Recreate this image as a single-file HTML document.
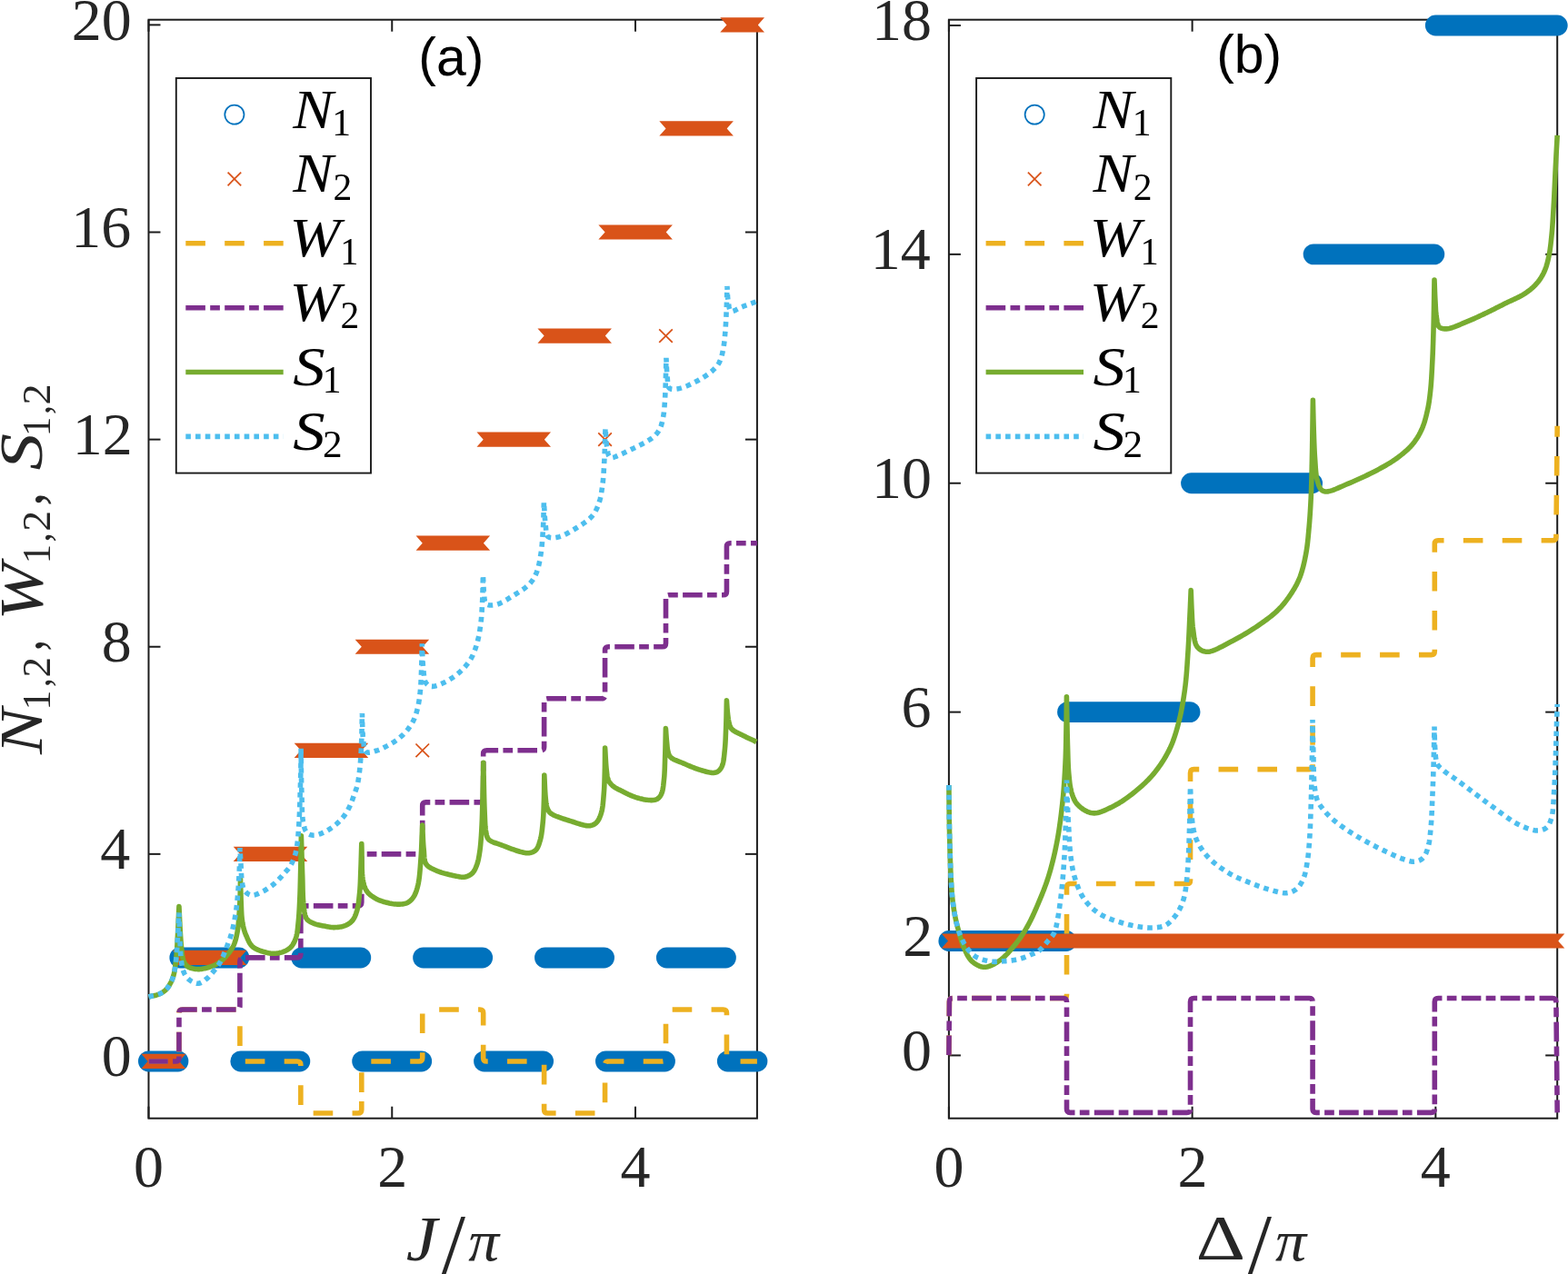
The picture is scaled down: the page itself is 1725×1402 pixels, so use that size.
<!DOCTYPE html>
<html><head><meta charset="utf-8"><title>figure</title>
<style>
html,body{margin:0;padding:0;background:#fff;}
svg{display:block;}
.tk{font-family:"Liberation Serif",serif;font-size:66px;fill:#262626;}
.lg{font-family:"Liberation Serif",serif;fill:#000;}
.it{font-style:italic;}
</style></head><body>
<svg width="1725" height="1402" viewBox="0 0 1725 1402">
<rect x="0" y="0" width="1725" height="1402" fill="#fff"/>
<g fill="none" stroke="#1c1c1c" stroke-width="2.0"><rect x="163.5" y="21.7" width="669.4" height="1209"/><line x1="163.5" y1="1230.7" x2="163.5" y2="1217.7"/><line x1="163.5" y1="21.7" x2="163.5" y2="34.7"/><line x1="431.26" y1="1230.7" x2="431.26" y2="1217.7"/><line x1="431.26" y1="21.7" x2="431.26" y2="34.7"/><line x1="699.02" y1="1230.7" x2="699.02" y2="1217.7"/><line x1="699.02" y1="21.7" x2="699.02" y2="34.7"/><line x1="163.5" y1="1167.97" x2="176.5" y2="1167.97"/><line x1="832.9" y1="1167.97" x2="819.9" y2="1167.97"/><line x1="163.5" y1="939.86" x2="176.5" y2="939.86"/><line x1="832.9" y1="939.86" x2="819.9" y2="939.86"/><line x1="163.5" y1="711.74" x2="176.5" y2="711.74"/><line x1="832.9" y1="711.74" x2="819.9" y2="711.74"/><line x1="163.5" y1="483.63" x2="176.5" y2="483.63"/><line x1="832.9" y1="483.63" x2="819.9" y2="483.63"/><line x1="163.5" y1="255.52" x2="176.5" y2="255.52"/><line x1="832.9" y1="255.52" x2="819.9" y2="255.52"/><line x1="163.5" y1="27.4" x2="176.5" y2="27.4"/><line x1="832.9" y1="27.4" x2="819.9" y2="27.4"/></g>
<g><text transform="translate(147 1306)" font-family="'Liberation Serif',serif" font-size="66" fill="#262626">0</text><text transform="translate(415.13 1306)" font-family="'Liberation Serif',serif" font-size="66" fill="#262626">2</text><text transform="translate(682.39 1306)" font-family="'Liberation Serif',serif" font-size="66" fill="#262626">4</text><text transform="translate(111.71 1184.17)" font-family="'Liberation Serif',serif" font-size="66" fill="#262626">0</text><text transform="translate(110.23 956.06)" font-family="'Liberation Serif',serif" font-size="66" fill="#262626">4</text><text transform="translate(111.71 727.94)" font-family="'Liberation Serif',serif" font-size="66" fill="#262626">8</text><text transform="translate(79.84 499.83)" font-family="'Liberation Serif',serif" font-size="66" fill="#262626">12</text><text transform="translate(78.17 271.72)" font-family="'Liberation Serif',serif" font-size="66" fill="#262626">16</text><text transform="translate(78.71 43.6)" font-family="'Liberation Serif',serif" font-size="66" fill="#262626">20</text></g>
<g fill="none" stroke="#1c1c1c" stroke-width="2.0"><rect x="1043.9" y="21.7" width="669.3" height="1209"/><line x1="1043.9" y1="1230.7" x2="1043.9" y2="1217.7"/><line x1="1043.9" y1="21.7" x2="1043.9" y2="34.7"/><line x1="1311.62" y1="1230.7" x2="1311.62" y2="1217.7"/><line x1="1311.62" y1="21.7" x2="1311.62" y2="34.7"/><line x1="1579.34" y1="1230.7" x2="1579.34" y2="1217.7"/><line x1="1579.34" y1="21.7" x2="1579.34" y2="34.7"/><line x1="1043.9" y1="1161.43" x2="1056.9" y2="1161.43"/><line x1="1713.2" y1="1161.43" x2="1700.2" y2="1161.43"/><line x1="1043.9" y1="1035.5" x2="1056.9" y2="1035.5"/><line x1="1713.2" y1="1035.5" x2="1700.2" y2="1035.5"/><line x1="1043.9" y1="783.62" x2="1056.9" y2="783.62"/><line x1="1713.2" y1="783.62" x2="1700.2" y2="783.62"/><line x1="1043.9" y1="531.75" x2="1056.9" y2="531.75"/><line x1="1713.2" y1="531.75" x2="1700.2" y2="531.75"/><line x1="1043.9" y1="279.87" x2="1056.9" y2="279.87"/><line x1="1713.2" y1="279.87" x2="1700.2" y2="279.87"/><line x1="1043.9" y1="28" x2="1056.9" y2="28"/><line x1="1713.2" y1="28" x2="1700.2" y2="28"/></g>
<g><text transform="translate(1027.4 1306)" font-family="'Liberation Serif',serif" font-size="66" fill="#262626">0</text><text transform="translate(1295.49 1306)" font-family="'Liberation Serif',serif" font-size="66" fill="#262626">2</text><text transform="translate(1562.71 1306)" font-family="'Liberation Serif',serif" font-size="66" fill="#262626">4</text><text transform="translate(992.11 1177.63)" font-family="'Liberation Serif',serif" font-size="66" fill="#262626">0</text><text transform="translate(993.24 1051.7)" font-family="'Liberation Serif',serif" font-size="66" fill="#262626">2</text><text transform="translate(991.57 799.82)" font-family="'Liberation Serif',serif" font-size="66" fill="#262626">6</text><text transform="translate(959.11 547.95)" font-family="'Liberation Serif',serif" font-size="66" fill="#262626">10</text><text transform="translate(957.63 296.07)" font-family="'Liberation Serif',serif" font-size="66" fill="#262626">14</text><text transform="translate(959.11 44.2)" font-family="'Liberation Serif',serif" font-size="66" fill="#262626">18</text></g>
<g><g stroke="#0072BD" stroke-width="22.95" stroke-linecap="round" fill="none"><line x1="163.5" y1="1167.97" x2="195.9" y2="1167.97"/><line x1="197.91" y1="1053.91" x2="262.84" y2="1053.91"/><line x1="264.85" y1="1167.97" x2="329.78" y2="1167.97"/><line x1="331.79" y1="1053.91" x2="396.72" y2="1053.91"/><line x1="398.73" y1="1167.97" x2="463.66" y2="1167.97"/><line x1="465.67" y1="1053.91" x2="530.6" y2="1053.91"/><line x1="532.61" y1="1167.97" x2="597.54" y2="1167.97"/><line x1="599.55" y1="1053.91" x2="664.48" y2="1053.91"/><line x1="666.49" y1="1167.97" x2="731.42" y2="1167.97"/><line x1="733.43" y1="1053.91" x2="798.36" y2="1053.91"/><line x1="800.37" y1="1167.97" x2="832.9" y2="1167.97"/></g>
<g fill="#D95319" stroke="none"><polygon points="155.4,1159.87 204.4,1159.87 197.2,1167.97 204.4,1176.07 155.4,1176.07 162.6,1167.97"/><polygon points="189.81,1045.81 271.34,1045.81 264.14,1053.91 271.34,1062.01 189.81,1062.01 197.01,1053.91"/><polygon points="256.75,931.76 338.28,931.76 331.08,939.86 338.28,947.96 256.75,947.96 263.95,939.86"/><polygon points="323.69,817.7 405.22,817.7 398.02,825.8 405.22,833.9 323.69,833.9 330.89,825.8"/><polygon points="390.63,703.64 472.16,703.64 464.96,711.74 472.16,719.84 390.63,719.84 397.83,711.74"/><polygon points="457.57,589.59 539.1,589.59 531.9,597.69 539.1,605.79 457.57,605.79 464.77,597.69"/><polygon points="524.51,475.53 606.04,475.53 598.84,483.63 606.04,491.73 524.51,491.73 531.71,483.63"/><polygon points="591.45,361.47 672.98,361.47 665.78,369.57 672.98,377.67 591.45,377.67 598.65,369.57"/><polygon points="658.39,247.42 739.92,247.42 732.72,255.52 739.92,263.62 658.39,263.62 665.59,255.52"/><polygon points="725.33,133.36 806.86,133.36 799.66,141.46 806.86,149.56 725.33,149.56 732.53,141.46"/><polygon points="792.27,19.3 841,19.3 833.8,27.4 841,35.5 792.27,35.5 799.47,27.4"/></g>
<g stroke="#D95319" stroke-width="1.75" fill="none"><path d="M457.43 818.5L472.03 833.1M457.43 833.1L472.03 818.5"/><path d="M658.25 476.33L672.85 490.93M658.25 490.93L672.85 476.33"/><path d="M725.19 362.27L739.79 376.87M725.19 376.87L739.79 362.27"/></g>
<path d="M163.5 1167.97 L193.17 1167.97 Q196.97 1167.97 196.97 1164.17 L196.97 1114.74 Q196.97 1110.94 200.77 1110.94 L260.11 1110.94 Q263.91 1110.94 263.91 1114.74 L263.91 1164.17 Q263.91 1167.97 267.71 1167.97 L327.05 1167.97 Q330.85 1167.97 330.85 1171.77 L330.85 1221.2 Q330.85 1225 334.65 1225 L393.99 1225 Q397.79 1225 397.79 1221.2 L397.79 1205" fill="none" stroke="#EDB120" stroke-width="5.6" stroke-dasharray="21.6 21.3" stroke-dashoffset="0.5" stroke-linejoin="round"/>
<path d="M397.79 1205 L397.79 1171.77 Q397.79 1167.97 401.59 1167.97 L460.93 1167.97 Q464.73 1167.97 464.73 1164.17 L464.73 1114.74 Q464.73 1110.94 468.53 1110.94 L527.87 1110.94 Q531.67 1110.94 531.67 1114.74 L531.67 1164.17 Q531.67 1167.97 535.47 1167.97 L594.81 1167.97 Q598.61 1167.97 598.61 1171.77 L598.61 1221.2 Q598.61 1225 602.41 1225 L661.75 1225 Q665.55 1225 665.55 1221.2 L665.55 1171.77 Q665.55 1167.97 669.35 1167.97 L728.69 1167.97 Q732.49 1167.97 732.49 1164.17 L732.49 1114.74 Q732.49 1110.94 736.29 1110.94 L795.63 1110.94 Q799.43 1110.94 799.43 1114.74 L799.43 1164.17 Q799.43 1167.97 803.23 1167.97 L832.9 1167.97" fill="none" stroke="#EDB120" stroke-width="5.6" stroke-dasharray="21.6 21.3" stroke-dashoffset="39.84" stroke-linejoin="round"/>
<path d="M163.5 1167.97 L193.17 1167.97 Q196.97 1167.97 196.97 1164.17 L196.97 1114.74 Q196.97 1110.94 200.77 1110.94 L260.11 1110.94 Q263.91 1110.94 263.91 1107.14 L263.91 1057.71 Q263.91 1053.91 267.71 1053.91 L327.05 1053.91 Q330.85 1053.91 330.85 1050.11 L330.85 1000.68 Q330.85 996.88 334.65 996.88 L393.99 996.88 Q397.79 996.88 397.79 993.08 L397.79 943.66 Q397.79 939.86 401.59 939.86 L460.93 939.86 Q464.73 939.86 464.73 936.06 L464.73 886.63 Q464.73 882.83 468.53 882.83 L527.87 882.83 Q531.67 882.83 531.67 879.03 L531.67 829.6 Q531.67 825.8 535.47 825.8 L594.81 825.8 Q598.61 825.8 598.61 822 L598.61 772.57 Q598.61 768.77 602.41 768.77 L661.75 768.77 Q665.55 768.77 665.55 764.97 L665.55 715.54 Q665.55 711.74 669.35 711.74 L728.69 711.74 Q732.49 711.74 732.49 707.94 L732.49 658.51 Q732.49 654.71 736.29 654.71 L795.63 654.71 Q799.43 654.71 799.43 650.91 L799.43 601.49 Q799.43 597.69 803.23 597.69 L832.9 597.69" fill="none" stroke="#7E2F8E" stroke-width="5.6" stroke-dasharray="21.6 5.3 10.7 5.3" stroke-dashoffset="0.3" stroke-linejoin="round"/>
<path d="M163.5 1096.9 L164.47 1096.67 L165.45 1096.45 L166.44 1096.25 L167.44 1096.05 L168.44 1095.84 L169.43 1095.64 L170.41 1095.42 L171.38 1095.19 L172.33 1094.94 L173.25 1094.66 L174.14 1094.35 L175 1094 L175.74 1093.67 L176.46 1093.31 L177.18 1092.94 L177.87 1092.56 L178.56 1092.16 L179.22 1091.74 L179.87 1091.3 L180.5 1090.85 L181.11 1090.39 L181.69 1089.91 L182.26 1089.41 L182.8 1088.9 L183.29 1088.4 L183.75 1087.88 L184.19 1087.34 L184.61 1086.78 L185.02 1086.22 L185.4 1085.64 L185.78 1085.04 L186.14 1084.44 L186.49 1083.84 L186.83 1083.23 L187.17 1082.61 L187.5 1082 L187.83 1081.37 L188.15 1080.75 L188.46 1080.11 L188.76 1079.48 L189.05 1078.83 L189.33 1078.18 L189.59 1077.52 L189.85 1076.85 L190.1 1076.16 L190.34 1075.46 L190.58 1074.74 L190.8 1074 L191.05 1073.1 L191.28 1072.17 L191.5 1071.21 L191.7 1070.24 L191.89 1069.24 L192.07 1068.23 L192.24 1067.21 L192.4 1066.17 L192.55 1065.13 L192.7 1064.09 L192.85 1063.04 L193 1062 L193.15 1060.88 L193.29 1059.77 L193.43 1058.66 L193.55 1057.55 L193.67 1056.42 L193.78 1055.29 L193.89 1054.14 L194 1052.97 L194.1 1051.77 L194.2 1050.55 L194.3 1049.29 L194.4 1048 L194.53 1046.29 L194.65 1044.52 L194.77 1042.7 L194.88 1040.83 L194.99 1038.93 L195.09 1036.99 L195.2 1035.02 L195.3 1033.03 L195.4 1031.03 L195.5 1029.02 L195.6 1027.01 L195.7 1025 L195.81 1022.79 L195.92 1020.56 L196.03 1018.3 L196.13 1016.02 L196.23 1013.72 L196.34 1011.4 L196.44 1009.08 L196.54 1006.76 L196.64 1004.43 L196.74 1002.11 L196.85 999.8 L196.95 997.5 L197.06 999.8 L197.17 1002.13 L197.28 1004.48 L197.39 1006.83 L197.49 1009.19 L197.6 1011.54 L197.71 1013.86 L197.82 1016.17 L197.94 1018.43 L198.05 1020.64 L198.17 1022.81 L198.3 1024.9 L198.4 1026.58 L198.5 1028.23 L198.6 1029.84 L198.7 1031.44 L198.8 1033 L198.9 1034.55 L199.01 1036.07 L199.13 1037.57 L199.25 1039.05 L199.39 1040.52 L199.54 1041.97 L199.7 1043.4 L199.84 1044.65 L199.97 1045.91 L200.1 1047.16 L200.23 1048.41 L200.36 1049.64 L200.51 1050.86 L200.67 1052.04 L200.86 1053.19 L201.09 1054.3 L201.35 1055.36 L201.65 1056.36 L202 1057.3 L202.29 1057.97 L202.59 1058.63 L202.9 1059.25 L203.22 1059.86 L203.57 1060.44 L203.93 1061 L204.32 1061.53 L204.73 1062.04 L205.17 1062.52 L205.65 1062.98 L206.15 1063.4 L206.7 1063.8 L207.42 1064.24 L208.2 1064.63 L209.05 1064.99 L209.95 1065.31 L210.9 1065.59 L211.87 1065.83 L212.87 1066.04 L213.87 1066.22 L214.88 1066.36 L215.88 1066.47 L216.85 1066.55 L217.8 1066.6 L218.73 1066.61 L219.66 1066.58 L220.6 1066.5 L221.54 1066.39 L222.48 1066.24 L223.42 1066.07 L224.36 1065.88 L225.29 1065.66 L226.21 1065.43 L227.12 1065.19 L228.02 1064.95 L228.9 1064.7 L229.72 1064.46 L230.53 1064.21 L231.34 1063.95 L232.14 1063.68 L232.94 1063.39 L233.72 1063.1 L234.5 1062.78 L235.26 1062.46 L236.02 1062.11 L236.76 1061.76 L237.49 1061.39 L238.2 1061 L238.87 1060.61 L239.53 1060.22 L240.17 1059.81 L240.8 1059.38 L241.42 1058.95 L242.03 1058.5 L242.64 1058.03 L243.24 1057.55 L243.83 1057.06 L244.42 1056.56 L245.01 1056.04 L245.6 1055.5 L246.25 1054.89 L246.91 1054.25 L247.56 1053.59 L248.21 1052.9 L248.86 1052.21 L249.5 1051.49 L250.13 1050.77 L250.74 1050.04 L251.34 1049.3 L251.91 1048.56 L252.47 1047.83 L253 1047.1 L253.47 1046.44 L253.92 1045.78 L254.36 1045.13 L254.78 1044.47 L255.19 1043.82 L255.58 1043.15 L255.96 1042.48 L256.33 1041.79 L256.69 1041.08 L257.04 1040.35 L257.37 1039.59 L257.7 1038.8 L258.08 1037.8 L258.45 1036.76 L258.79 1035.69 L259.11 1034.58 L259.42 1033.45 L259.71 1032.3 L259.99 1031.12 L260.25 1029.92 L260.5 1028.71 L260.74 1027.48 L260.98 1026.24 L261.2 1025 L261.44 1023.55 L261.66 1022.06 L261.86 1020.54 L262.03 1018.99 L262.2 1017.42 L262.35 1015.84 L262.49 1014.24 L262.62 1012.64 L262.74 1011.04 L262.86 1009.45 L262.98 1007.87 L263.1 1006.3 L263.22 1004.76 L263.32 1003.22 L263.43 1001.69 L263.52 1000.16 L263.61 998.63 L263.69 997.1 L263.77 995.57 L263.84 994.03 L263.91 992.48 L263.98 990.93 L264.04 989.37 L264.1 987.8 L264.16 986.14 L264.2 984.47 L264.25 982.79 L264.28 981.1 L264.31 979.41 L264.34 977.71 L264.37 976.01 L264.39 974.3 L264.42 972.6 L264.44 970.89 L264.47 969.19 L264.5 967.5 L264.57 969.82 L264.63 972.17 L264.69 974.55 L264.75 976.94 L264.81 979.33 L264.87 981.71 L264.94 984.07 L265 986.38 L265.07 988.65 L265.14 990.85 L265.22 992.97 L265.3 995 L265.36 996.49 L265.42 997.95 L265.47 999.38 L265.52 1000.77 L265.57 1002.13 L265.63 1003.46 L265.7 1004.77 L265.77 1006.06 L265.85 1007.32 L265.95 1008.56 L266.07 1009.79 L266.2 1011 L266.32 1012 L266.45 1012.98 L266.59 1013.95 L266.74 1014.91 L266.89 1015.85 L267.06 1016.78 L267.23 1017.69 L267.4 1018.58 L267.59 1019.46 L267.79 1020.32 L267.99 1021.17 L268.2 1022 L268.38 1022.68 L268.56 1023.33 L268.74 1023.96 L268.92 1024.57 L269.11 1025.17 L269.31 1025.76 L269.52 1026.36 L269.74 1026.95 L269.98 1027.56 L270.23 1028.19 L270.5 1028.83 L270.8 1029.5 L271.21 1030.44 L271.64 1031.44 L272.08 1032.49 L272.55 1033.57 L273.05 1034.67 L273.57 1035.77 L274.13 1036.86 L274.73 1037.92 L275.37 1038.94 L276.06 1039.9 L276.8 1040.79 L277.6 1041.6 L278.51 1042.36 L279.51 1043.07 L280.58 1043.72 L281.71 1044.33 L282.89 1044.89 L284.1 1045.41 L285.33 1045.89 L286.56 1046.33 L287.79 1046.74 L289 1047.12 L290.18 1047.47 L291.3 1047.8 L292.23 1048.06 L293.15 1048.3 L294.06 1048.51 L294.96 1048.7 L295.86 1048.87 L296.76 1049.01 L297.65 1049.13 L298.54 1049.22 L299.43 1049.28 L300.32 1049.32 L301.21 1049.32 L302.1 1049.3 L303 1049.25 L303.92 1049.17 L304.84 1049.05 L305.77 1048.91 L306.69 1048.75 L307.61 1048.56 L308.52 1048.34 L309.42 1048.1 L310.3 1047.83 L311.16 1047.54 L311.99 1047.23 L312.8 1046.9 L313.52 1046.58 L314.24 1046.24 L314.94 1045.89 L315.63 1045.52 L316.3 1045.13 L316.96 1044.72 L317.6 1044.28 L318.22 1043.82 L318.82 1043.33 L319.41 1042.82 L319.96 1042.27 L320.5 1041.7 L321.07 1041.02 L321.6 1040.31 L322.11 1039.55 L322.6 1038.76 L323.06 1037.94 L323.5 1037.09 L323.91 1036.21 L324.31 1035.31 L324.68 1034.38 L325.04 1033.44 L325.38 1032.48 L325.7 1031.5 L326.06 1030.29 L326.37 1029.03 L326.64 1027.74 L326.88 1026.42 L327.09 1025.06 L327.28 1023.68 L327.45 1022.26 L327.6 1020.81 L327.75 1019.34 L327.89 1017.85 L328.04 1016.34 L328.2 1014.8 L328.39 1012.86 L328.57 1010.87 L328.73 1008.84 L328.88 1006.76 L329.02 1004.64 L329.15 1002.48 L329.27 1000.3 L329.38 998.09 L329.49 995.86 L329.6 993.61 L329.7 991.36 L329.8 989.1 L329.91 986.56 L330.01 983.99 L330.1 981.38 L330.18 978.75 L330.25 976.1 L330.32 973.42 L330.39 970.72 L330.45 968.01 L330.51 965.28 L330.57 962.53 L330.64 959.77 L330.7 957 L330.77 954 L330.83 950.96 L330.89 947.89 L330.95 944.8 L331.01 941.69 L331.07 938.57 L331.12 935.44 L331.18 932.3 L331.23 929.16 L331.29 926.03 L331.34 922.91 L331.4 919.8 L331.51 923.45 L331.61 927.14 L331.72 930.86 L331.82 934.58 L331.93 938.3 L332.04 942.02 L332.14 945.71 L332.25 949.36 L332.36 952.97 L332.47 956.52 L332.58 960 L332.7 963.4 L332.79 966.28 L332.86 969.17 L332.92 972.05 L332.98 974.9 L333.03 977.72 L333.1 980.5 L333.18 983.22 L333.28 985.86 L333.4 988.42 L333.56 990.89 L333.76 993.26 L334 995.5 L334.18 997.02 L334.33 998.52 L334.49 999.99 L334.64 1001.43 L334.81 1002.82 L335 1004.17 L335.22 1005.47 L335.49 1006.71 L335.81 1007.87 L336.2 1008.97 L336.66 1009.98 L337.2 1010.9 L337.67 1011.54 L338.19 1012.13 L338.74 1012.66 L339.33 1013.15 L339.94 1013.59 L340.59 1014 L341.26 1014.39 L341.96 1014.75 L342.67 1015.1 L343.4 1015.43 L344.15 1015.77 L344.9 1016.1 L345.84 1016.49 L346.83 1016.84 L347.87 1017.17 L348.95 1017.48 L350.06 1017.76 L351.19 1018.02 L352.32 1018.26 L353.45 1018.49 L354.58 1018.71 L355.68 1018.91 L356.76 1019.11 L357.8 1019.3 L358.69 1019.47 L359.55 1019.63 L360.41 1019.8 L361.26 1019.95 L362.09 1020.1 L362.93 1020.23 L363.76 1020.35 L364.59 1020.45 L365.43 1020.52 L366.28 1020.58 L367.13 1020.6 L368 1020.6 L368.95 1020.57 L369.93 1020.52 L370.92 1020.44 L371.93 1020.34 L372.94 1020.22 L373.95 1020.07 L374.95 1019.89 L375.94 1019.69 L376.9 1019.46 L377.84 1019.2 L378.74 1018.92 L379.6 1018.6 L380.34 1018.3 L381.06 1017.98 L381.76 1017.64 L382.46 1017.28 L383.13 1016.89 L383.79 1016.49 L384.42 1016.06 L385.04 1015.61 L385.64 1015.12 L386.22 1014.61 L386.77 1014.07 L387.3 1013.5 L387.86 1012.83 L388.39 1012.11 L388.89 1011.37 L389.36 1010.58 L389.8 1009.77 L390.23 1008.92 L390.63 1008.04 L391.01 1007.13 L391.37 1006.19 L391.73 1005.22 L392.07 1004.22 L392.4 1003.2 L392.82 1001.77 L393.2 1000.25 L393.54 998.67 L393.85 997.02 L394.13 995.32 L394.38 993.58 L394.62 991.8 L394.83 990 L395.03 988.18 L395.23 986.35 L395.41 984.52 L395.6 982.7 L395.79 980.67 L395.96 978.61 L396.1 976.52 L396.23 974.41 L396.33 972.27 L396.43 970.12 L396.51 967.96 L396.59 965.78 L396.66 963.59 L396.74 961.4 L396.81 959.2 L396.9 957 L396.99 954.68 L397.08 952.34 L397.16 949.98 L397.24 947.61 L397.31 945.23 L397.38 942.84 L397.45 940.45 L397.52 938.05 L397.59 935.66 L397.66 933.27 L397.73 930.88 L397.8 928.5 L397.91 932.03 L397.99 935.7 L398.03 939.47 L398.05 943.27 L398.08 947.08 L398.12 950.84 L398.19 954.51 L398.31 958.05 L398.48 961.4 L398.73 964.52 L399.06 967.37 L399.5 969.9 L399.77 971.15 L400.05 972.32 L400.35 973.43 L400.66 974.49 L400.98 975.48 L401.33 976.43 L401.7 977.33 L402.09 978.2 L402.52 979.03 L402.97 979.84 L403.47 980.63 L404 981.4 L404.52 982.07 L405.07 982.71 L405.66 983.32 L406.27 983.9 L406.91 984.45 L407.57 984.98 L408.25 985.49 L408.93 985.98 L409.62 986.45 L410.32 986.91 L411.01 987.36 L411.7 987.8 L412.35 988.21 L412.99 988.59 L413.63 988.96 L414.27 989.31 L414.92 989.64 L415.58 989.96 L416.25 990.27 L416.95 990.57 L417.66 990.86 L418.41 991.14 L419.19 991.42 L420 991.7 L421.2 992.08 L422.5 992.47 L423.88 992.85 L425.32 993.22 L426.81 993.58 L428.32 993.92 L429.85 994.22 L431.36 994.49 L432.85 994.72 L434.3 994.91 L435.69 995.03 L437 995.1 L438.01 995.12 L439.01 995.12 L440 995.1 L440.97 995.06 L441.93 994.99 L442.87 994.89 L443.79 994.76 L444.68 994.59 L445.56 994.39 L446.4 994.14 L447.22 993.84 L448 993.5 L448.7 993.14 L449.38 992.74 L450.03 992.31 L450.66 991.84 L451.27 991.34 L451.86 990.8 L452.43 990.24 L452.98 989.64 L453.51 989.02 L454.02 988.37 L454.52 987.7 L455 987 L455.55 986.12 L456.07 985.19 L456.56 984.22 L457.01 983.21 L457.44 982.16 L457.84 981.07 L458.22 979.94 L458.58 978.77 L458.93 977.56 L459.26 976.31 L459.58 975.02 L459.9 973.7 L460.32 971.72 L460.7 969.62 L461.03 967.41 L461.33 965.12 L461.59 962.74 L461.83 960.29 L462.05 957.8 L462.25 955.26 L462.44 952.7 L462.62 950.13 L462.81 947.56 L463 945 L463.21 942.09 L463.39 939.12 L463.56 936.11 L463.71 933.05 L463.84 929.96 L463.97 926.84 L464.09 923.71 L464.2 920.57 L464.32 917.44 L464.44 914.3 L464.56 911.19 L464.7 908.1 L464.82 910.36 L464.93 912.67 L465.03 914.99 L465.12 917.33 L465.22 919.67 L465.32 922 L465.43 924.3 L465.54 926.56 L465.68 928.78 L465.83 930.93 L466 933.01 L466.2 935 L466.34 936.5 L466.44 938 L466.52 939.47 L466.6 940.93 L466.68 942.36 L466.79 943.74 L466.94 945.09 L467.14 946.38 L467.41 947.62 L467.77 948.79 L468.23 949.88 L468.8 950.9 L469.42 951.74 L470.11 952.51 L470.87 953.21 L471.7 953.86 L472.58 954.46 L473.52 955.02 L474.5 955.55 L475.51 956.06 L476.55 956.55 L477.62 957.03 L478.71 957.51 L479.8 958 L481.24 958.62 L482.8 959.21 L484.44 959.78 L486.16 960.33 L487.92 960.85 L489.71 961.35 L491.5 961.82 L493.28 962.26 L495.02 962.67 L496.7 963.05 L498.3 963.39 L499.8 963.7 L500.86 963.92 L501.9 964.15 L502.91 964.37 L503.9 964.58 L504.87 964.77 L505.83 964.94 L506.76 965.08 L507.68 965.19 L508.58 965.25 L509.47 965.26 L510.34 965.21 L511.2 965.1 L511.97 964.95 L512.73 964.76 L513.48 964.53 L514.23 964.27 L514.96 963.97 L515.68 963.64 L516.38 963.27 L517.06 962.87 L517.71 962.45 L518.34 961.99 L518.94 961.51 L519.5 961 L520.06 960.43 L520.58 959.81 L521.07 959.16 L521.53 958.47 L521.96 957.74 L522.37 956.98 L522.76 956.2 L523.13 955.4 L523.49 954.57 L523.83 953.73 L524.17 952.87 L524.5 952 L524.89 950.92 L525.24 949.81 L525.58 948.67 L525.88 947.5 L526.17 946.29 L526.43 945.06 L526.68 943.8 L526.92 942.5 L527.15 941.18 L527.37 939.82 L527.58 938.42 L527.8 937 L528.07 935.05 L528.32 933.02 L528.55 930.93 L528.76 928.78 L528.95 926.57 L529.13 924.31 L529.29 922.01 L529.45 919.66 L529.59 917.29 L529.73 914.88 L529.87 912.45 L530 910 L530.15 907 L530.28 903.9 L530.4 900.71 L530.5 897.45 L530.59 894.14 L530.68 890.8 L530.75 887.45 L530.82 884.11 L530.89 880.79 L530.96 877.53 L531.03 874.32 L531.1 871.2 L531.17 868.44 L531.23 865.72 L531.29 863.03 L531.35 860.37 L531.41 857.73 L531.47 855.1 L531.52 852.49 L531.58 849.88 L531.63 847.28 L531.69 844.66 L531.74 842.04 L531.8 839.4 L531.91 844.12 L532.02 848.99 L532.12 853.95 L532.22 858.96 L532.32 863.98 L532.43 868.94 L532.53 873.81 L532.65 878.53 L532.77 883.06 L532.9 887.35 L533.04 891.34 L533.2 895 L533.29 897.05 L533.37 899.01 L533.44 900.91 L533.51 902.73 L533.58 904.48 L533.66 906.16 L533.75 907.78 L533.86 909.34 L534 910.83 L534.16 912.28 L534.36 913.66 L534.6 915 L534.76 915.87 L534.91 916.71 L535.05 917.53 L535.19 918.31 L535.34 919.07 L535.51 919.8 L535.71 920.51 L535.95 921.19 L536.24 921.85 L536.59 922.49 L537.01 923.1 L537.5 923.7 L538.28 924.44 L539.19 925.1 L540.22 925.71 L541.35 926.26 L542.56 926.78 L543.84 927.27 L545.18 927.73 L546.55 928.19 L547.95 928.64 L549.35 929.11 L550.74 929.59 L552.1 930.1 L553.76 930.75 L555.52 931.44 L557.36 932.15 L559.25 932.87 L561.18 933.59 L563.11 934.3 L565.02 934.98 L566.89 935.63 L568.7 936.23 L570.42 936.76 L572.03 937.22 L573.5 937.6 L574.34 937.8 L575.15 937.99 L575.92 938.17 L576.66 938.34 L577.38 938.48 L578.08 938.61 L578.76 938.7 L579.44 938.77 L580.1 938.81 L580.76 938.81 L581.43 938.78 L582.1 938.7 L582.76 938.59 L583.42 938.46 L584.09 938.3 L584.75 938.11 L585.4 937.89 L586.05 937.64 L586.68 937.35 L587.3 937.04 L587.89 936.68 L588.46 936.3 L588.99 935.87 L589.5 935.4 L590.07 934.77 L590.59 934.07 L591.07 933.31 L591.52 932.49 L591.93 931.62 L592.32 930.7 L592.69 929.74 L593.03 928.75 L593.36 927.73 L593.68 926.7 L593.99 925.65 L594.3 924.6 L594.68 923.21 L595.02 921.76 L595.32 920.25 L595.6 918.69 L595.86 917.09 L596.09 915.45 L596.3 913.79 L596.5 912.1 L596.68 910.41 L596.86 908.7 L597.03 907 L597.2 905.3 L597.37 903.44 L597.53 901.57 L597.66 899.67 L597.78 897.77 L597.89 895.84 L597.98 893.9 L598.06 891.95 L598.14 889.97 L598.2 887.98 L598.27 885.97 L598.33 883.94 L598.4 881.9 L598.47 879.6 L598.52 877.26 L598.57 874.89 L598.61 872.49 L598.64 870.08 L598.66 867.64 L598.68 865.2 L598.7 862.75 L598.72 860.3 L598.74 857.85 L598.77 855.42 L598.8 853 L598.91 855.12 L599.02 857.29 L599.12 859.5 L599.22 861.74 L599.32 863.97 L599.42 866.18 L599.52 868.35 L599.64 870.47 L599.76 872.51 L599.89 874.46 L600.04 876.3 L600.2 878 L600.3 879.04 L600.4 880.03 L600.49 880.99 L600.58 881.92 L600.67 882.81 L600.77 883.67 L600.88 884.51 L601.01 885.33 L601.16 886.12 L601.34 886.89 L601.55 887.65 L601.8 888.4 L602.02 889.01 L602.23 889.6 L602.45 890.18 L602.68 890.73 L602.92 891.28 L603.18 891.81 L603.47 892.32 L603.8 892.83 L604.17 893.33 L604.59 893.82 L605.06 894.31 L605.6 894.8 L606.72 895.64 L608.08 896.45 L609.62 897.24 L611.33 898.01 L613.16 898.74 L615.1 899.46 L617.1 900.15 L619.14 900.82 L621.18 901.47 L623.19 902.1 L625.14 902.71 L627 903.3 L628.8 903.89 L630.67 904.52 L632.58 905.17 L634.51 905.81 L636.45 906.43 L638.37 907.02 L640.25 907.54 L642.08 908 L643.82 908.36 L645.47 908.61 L647.01 908.73 L648.4 908.7 L649.19 908.62 L649.94 908.5 L650.66 908.35 L651.35 908.16 L652 907.94 L652.63 907.68 L653.24 907.39 L653.83 907.06 L654.39 906.7 L654.94 906.3 L655.48 905.87 L656 905.4 L656.61 904.78 L657.18 904.08 L657.73 903.33 L658.24 902.52 L658.73 901.66 L659.18 900.75 L659.62 899.8 L660.03 898.81 L660.42 897.79 L660.8 896.75 L661.16 895.68 L661.5 894.6 L661.92 893.1 L662.29 891.51 L662.61 889.84 L662.88 888.1 L663.13 886.3 L663.34 884.46 L663.52 882.59 L663.69 880.71 L663.85 878.81 L664 876.92 L664.15 875.05 L664.3 873.2 L664.45 871.29 L664.59 869.38 L664.7 867.47 L664.8 865.54 L664.89 863.61 L664.97 861.67 L665.03 859.72 L665.09 857.76 L665.14 855.79 L665.2 853.8 L665.25 851.81 L665.3 849.8 L665.35 847.64 L665.4 845.45 L665.43 843.25 L665.46 841.03 L665.48 838.8 L665.5 836.56 L665.52 834.31 L665.53 832.07 L665.54 829.82 L665.56 827.57 L665.58 825.33 L665.6 823.1 L665.74 825.21 L665.87 827.38 L665.99 829.58 L666.11 831.8 L666.23 834.02 L666.36 836.23 L666.49 838.39 L666.62 840.5 L666.77 842.53 L666.93 844.48 L667.11 846.3 L667.3 848 L667.42 849.04 L667.53 850.04 L667.64 851 L667.74 851.93 L667.85 852.82 L667.96 853.69 L668.1 854.53 L668.25 855.35 L668.43 856.14 L668.65 856.91 L668.9 857.66 L669.2 858.4 L669.49 859.03 L669.81 859.63 L670.14 860.21 L670.49 860.77 L670.87 861.32 L671.27 861.85 L671.68 862.36 L672.12 862.87 L672.58 863.36 L673.07 863.85 L673.57 864.33 L674.1 864.8 L674.76 865.35 L675.47 865.87 L676.21 866.37 L676.98 866.85 L677.79 867.32 L678.62 867.78 L679.48 868.23 L680.35 868.68 L681.25 869.12 L682.16 869.57 L683.07 870.03 L684 870.5 L685.14 871.09 L686.33 871.69 L687.54 872.31 L688.78 872.94 L690.05 873.56 L691.34 874.18 L692.65 874.79 L693.97 875.38 L695.3 875.94 L696.63 876.46 L697.97 876.95 L699.3 877.4 L700.67 877.82 L702.09 878.23 L703.55 878.62 L705.03 878.98 L706.52 879.33 L708 879.64 L709.47 879.91 L710.9 880.15 L712.28 880.34 L713.6 880.48 L714.85 880.57 L716 880.6 L716.71 880.59 L717.4 880.58 L718.07 880.55 L718.72 880.5 L719.35 880.44 L719.95 880.35 L720.54 880.24 L721.11 880.1 L721.66 879.93 L722.19 879.72 L722.7 879.48 L723.2 879.2 L723.68 878.88 L724.15 878.52 L724.59 878.13 L725.02 877.71 L725.42 877.26 L725.81 876.78 L726.18 876.27 L726.53 875.73 L726.87 875.16 L727.19 874.56 L727.5 873.94 L727.8 873.3 L728.2 872.3 L728.54 871.22 L728.85 870.06 L729.11 868.84 L729.34 867.56 L729.54 866.22 L729.73 864.85 L729.89 863.44 L730.05 862 L730.19 860.54 L730.34 859.07 L730.5 857.6 L730.69 855.69 L730.85 853.71 L730.99 851.68 L731.1 849.59 L731.2 847.46 L731.29 845.28 L731.36 843.08 L731.43 840.86 L731.5 838.63 L731.56 836.38 L731.63 834.14 L731.7 831.9 L731.78 829.46 L731.85 826.99 L731.92 824.5 L731.98 821.99 L732.04 819.45 L732.09 816.91 L732.14 814.35 L732.19 811.79 L732.24 809.23 L732.29 806.68 L732.34 804.13 L732.4 801.6 L732.5 802.89 L732.59 804.2 L732.69 805.52 L732.78 806.84 L732.87 808.17 L732.97 809.49 L733.06 810.79 L733.16 812.09 L733.26 813.36 L733.37 814.61 L733.48 815.82 L733.6 817 L733.7 817.96 L733.78 818.91 L733.86 819.85 L733.94 820.77 L734.02 821.69 L734.11 822.58 L734.21 823.46 L734.32 824.32 L734.46 825.15 L734.61 825.96 L734.79 826.75 L735 827.5 L735.18 828.08 L735.35 828.64 L735.52 829.18 L735.7 829.71 L735.89 830.22 L736.1 830.72 L736.33 831.21 L736.59 831.69 L736.88 832.15 L737.21 832.61 L737.58 833.06 L738 833.5 L738.7 834.11 L739.5 834.68 L740.4 835.21 L741.37 835.72 L742.41 836.21 L743.51 836.68 L744.65 837.14 L745.82 837.6 L747.02 838.05 L748.22 838.52 L749.42 839 L750.6 839.5 L752.06 840.14 L753.59 840.81 L755.16 841.5 L756.78 842.2 L758.42 842.9 L760.09 843.59 L761.76 844.28 L763.43 844.94 L765.09 845.57 L766.73 846.16 L768.34 846.71 L769.9 847.2 L771.26 847.61 L772.64 848.02 L774.04 848.42 L775.44 848.81 L776.84 849.17 L778.21 849.51 L779.55 849.81 L780.84 850.05 L782.08 850.25 L783.24 850.37 L784.32 850.43 L785.3 850.4 L785.83 850.35 L786.34 850.28 L786.81 850.19 L787.27 850.09 L787.7 849.96 L788.12 849.82 L788.52 849.65 L788.91 849.46 L789.29 849.26 L789.66 849.03 L790.03 848.77 L790.4 848.5 L790.82 848.15 L791.23 847.77 L791.63 847.36 L792.01 846.92 L792.38 846.46 L792.74 845.96 L793.08 845.44 L793.41 844.88 L793.73 844.3 L794.03 843.7 L794.32 843.06 L794.6 842.4 L794.99 841.33 L795.32 840.16 L795.62 838.91 L795.88 837.58 L796.11 836.2 L796.32 834.75 L796.5 833.27 L796.67 831.74 L796.83 830.2 L796.98 828.63 L797.14 827.07 L797.3 825.5 L797.49 823.56 L797.66 821.55 L797.81 819.5 L797.95 817.4 L798.07 815.26 L798.18 813.09 L798.27 810.9 L798.36 808.69 L798.45 806.46 L798.53 804.24 L798.62 802.01 L798.7 799.8 L798.79 797.45 L798.86 795.07 L798.93 792.67 L798.99 790.26 L799.05 787.84 L799.1 785.41 L799.15 782.97 L799.2 780.53 L799.24 778.09 L799.29 775.65 L799.34 773.22 L799.4 770.8 L799.5 772.08 L799.59 773.37 L799.68 774.67 L799.77 775.97 L799.85 777.28 L799.94 778.58 L800.04 779.87 L800.13 781.15 L800.24 782.4 L800.35 783.63 L800.47 784.83 L800.6 786 L800.71 786.96 L800.82 787.91 L800.93 788.85 L801.05 789.77 L801.16 790.69 L801.28 791.59 L801.42 792.47 L801.56 793.33 L801.72 794.16 L801.89 794.97 L802.09 795.75 L802.3 796.5 L802.47 797.06 L802.63 797.59 L802.78 798.11 L802.94 798.61 L803.1 799.1 L803.28 799.57 L803.48 800.04 L803.71 800.49 L803.97 800.95 L804.26 801.4 L804.61 801.85 L805 802.3 L805.74 803 L806.61 803.69 L807.61 804.37 L808.7 805.04 L809.88 805.69 L811.12 806.33 L812.4 806.96 L813.69 807.58 L814.99 808.2 L816.27 808.8 L817.52 809.4 L818.7 810 L819.82 810.57 L820.94 811.13 L822.07 811.68 L823.19 812.21 L824.32 812.74 L825.44 813.27 L826.57 813.79 L827.69 814.31 L828.82 814.83 L829.95 815.35 L831.07 815.87 L832.2 816.4" fill="none" stroke="#77AC30" stroke-width="5.6" stroke-linejoin="round" stroke-linecap="butt"/>
<path d="M163.5 1096.9 L164.47 1096.67 L165.45 1096.45 L166.44 1096.25 L167.44 1096.05 L168.44 1095.84 L169.43 1095.64 L170.41 1095.42 L171.38 1095.19 L172.33 1094.94 L173.25 1094.66 L174.14 1094.35 L175 1094 L175.74 1093.67 L176.46 1093.31 L177.18 1092.94 L177.87 1092.56 L178.56 1092.16 L179.22 1091.74 L179.87 1091.3 L180.5 1090.85 L181.11 1090.39 L181.69 1089.91 L182.26 1089.41 L182.8 1088.9 L183.29 1088.4 L183.75 1087.88 L184.19 1087.34 L184.61 1086.78 L185.02 1086.22 L185.4 1085.64 L185.78 1085.04 L186.14 1084.44 L186.49 1083.84 L186.83 1083.23 L187.17 1082.61 L187.5 1082 L187.83 1081.37 L188.15 1080.75 L188.46 1080.11 L188.76 1079.48 L189.05 1078.83 L189.33 1078.18 L189.59 1077.52 L189.85 1076.85 L190.1 1076.16 L190.34 1075.46 L190.58 1074.74 L190.8 1074 L191.05 1073.1 L191.28 1072.17 L191.5 1071.21 L191.7 1070.24 L191.89 1069.24 L192.07 1068.23 L192.24 1067.21 L192.4 1066.17 L192.55 1065.13 L192.7 1064.09 L192.85 1063.04 L193 1062 L193.15 1060.88 L193.29 1059.76 L193.43 1058.64 L193.55 1057.51 L193.67 1056.38 L193.78 1055.23 L193.89 1054.07 L193.99 1052.9 L194.09 1051.7 L194.19 1050.49 L194.3 1049.26 L194.4 1048 L194.52 1046.46 L194.64 1044.89 L194.76 1043.29 L194.87 1041.66 L194.98 1040 L195.09 1038.33 L195.19 1036.63 L195.3 1034.92 L195.4 1033.2 L195.5 1031.47 L195.6 1029.73 L195.7 1028 L195.81 1026.11 L195.91 1024.19 L196.02 1022.26 L196.12 1020.31 L196.22 1018.34 L196.31 1016.37 L196.41 1014.39 L196.51 1012.4 L196.61 1010.42 L196.7 1008.44 L196.8 1006.46 L196.9 1004.5 L196.99 1007.06 L197.08 1009.65 L197.16 1012.26 L197.25 1014.88 L197.33 1017.5 L197.42 1020.11 L197.51 1022.7 L197.6 1025.25 L197.69 1027.78 L197.79 1030.25 L197.89 1032.66 L198 1035 L198.09 1036.9 L198.17 1038.78 L198.25 1040.64 L198.32 1042.47 L198.4 1044.27 L198.49 1046.05 L198.58 1047.79 L198.69 1049.5 L198.81 1051.18 L198.95 1052.83 L199.11 1054.43 L199.3 1056 L199.46 1057.24 L199.62 1058.46 L199.77 1059.66 L199.94 1060.85 L200.11 1062.01 L200.3 1063.15 L200.51 1064.26 L200.74 1065.35 L201 1066.4 L201.29 1067.43 L201.63 1068.43 L202 1069.4 L202.35 1070.21 L202.71 1071 L203.09 1071.77 L203.5 1072.53 L203.92 1073.26 L204.36 1073.97 L204.83 1074.66 L205.33 1075.33 L205.85 1075.96 L206.4 1076.57 L206.99 1077.15 L207.6 1077.7 L208.3 1078.27 L209.05 1078.83 L209.86 1079.38 L210.7 1079.92 L211.57 1080.42 L212.46 1080.89 L213.37 1081.3 L214.28 1081.66 L215.19 1081.95 L216.09 1082.16 L216.96 1082.28 L217.8 1082.3 L218.6 1082.22 L219.41 1082.04 L220.21 1081.77 L221.02 1081.43 L221.82 1081.02 L222.61 1080.56 L223.4 1080.05 L224.17 1079.52 L224.93 1078.96 L225.67 1078.4 L226.4 1077.84 L227.1 1077.3 L227.79 1076.75 L228.46 1076.16 L229.1 1075.56 L229.73 1074.93 L230.35 1074.28 L230.96 1073.61 L231.55 1072.93 L232.14 1072.24 L232.73 1071.53 L233.32 1070.83 L233.91 1070.11 L234.5 1069.4 L235.14 1068.63 L235.8 1067.84 L236.46 1067.03 L237.11 1066.21 L237.77 1065.38 L238.42 1064.54 L239.05 1063.7 L239.67 1062.85 L240.27 1062.01 L240.84 1061.17 L241.39 1060.33 L241.9 1059.5 L242.32 1058.78 L242.72 1058.07 L243.09 1057.36 L243.44 1056.65 L243.77 1055.95 L244.1 1055.24 L244.41 1054.53 L244.72 1053.81 L245.03 1053.08 L245.35 1052.33 L245.67 1051.58 L246 1050.8 L246.39 1049.88 L246.78 1048.94 L247.17 1047.98 L247.56 1047 L247.95 1046 L248.34 1045 L248.73 1043.99 L249.11 1042.98 L249.49 1041.97 L249.87 1040.97 L250.24 1039.98 L250.6 1039 L250.95 1038.07 L251.29 1037.16 L251.64 1036.24 L251.98 1035.33 L252.32 1034.43 L252.65 1033.52 L252.98 1032.61 L253.3 1031.7 L253.62 1030.79 L253.92 1029.87 L254.22 1028.94 L254.5 1028 L254.78 1027.03 L255.04 1026.05 L255.3 1025.06 L255.55 1024.07 L255.78 1023.08 L256.01 1022.08 L256.24 1021.07 L256.45 1020.07 L256.67 1019.06 L256.88 1018.04 L257.09 1017.02 L257.3 1016 L257.52 1014.94 L257.73 1013.87 L257.94 1012.8 L258.14 1011.73 L258.34 1010.65 L258.53 1009.57 L258.72 1008.48 L258.91 1007.4 L259.09 1006.3 L259.27 1005.2 L259.44 1004.1 L259.6 1003 L259.76 1001.86 L259.92 1000.71 L260.07 999.55 L260.21 998.39 L260.34 997.23 L260.48 996.07 L260.6 994.9 L260.73 993.73 L260.85 992.55 L260.97 991.37 L261.08 990.19 L261.2 989 L261.32 987.77 L261.43 986.54 L261.54 985.31 L261.65 984.08 L261.75 982.84 L261.85 981.59 L261.95 980.34 L262.04 979.09 L262.13 977.83 L262.23 976.56 L262.31 975.29 L262.4 974 L262.49 972.63 L262.58 971.26 L262.66 969.89 L262.74 968.52 L262.82 967.14 L262.89 965.75 L262.96 964.34 L263.04 962.92 L263.1 961.48 L263.17 960.01 L263.24 958.52 L263.3 957 L263.37 955.15 L263.44 953.25 L263.5 951.31 L263.56 949.33 L263.62 947.33 L263.67 945.3 L263.73 943.26 L263.78 941.22 L263.83 939.17 L263.89 937.13 L263.94 935.1 L264 933.1 L264.08 934.61 L264.16 936.13 L264.24 937.64 L264.32 939.15 L264.4 940.65 L264.48 942.16 L264.57 943.68 L264.65 945.19 L264.73 946.71 L264.82 948.23 L264.91 949.76 L265 951.3 L265.09 952.92 L265.17 954.58 L265.24 956.28 L265.31 958 L265.39 959.72 L265.46 961.43 L265.55 963.12 L265.66 964.76 L265.78 966.36 L265.92 967.89 L266.1 969.34 L266.3 970.7 L266.45 971.6 L266.58 972.47 L266.71 973.32 L266.84 974.14 L266.98 974.94 L267.14 975.71 L267.32 976.45 L267.53 977.17 L267.78 977.87 L268.07 978.54 L268.4 979.18 L268.8 979.8 L269.25 980.4 L269.76 981.01 L270.31 981.6 L270.9 982.17 L271.52 982.72 L272.18 983.23 L272.87 983.71 L273.57 984.13 L274.29 984.5 L275.03 984.81 L275.76 985.04 L276.5 985.2 L277.35 985.27 L278.25 985.22 L279.18 985.08 L280.13 984.86 L281.11 984.56 L282.1 984.21 L283.09 983.81 L284.09 983.38 L285.07 982.93 L286.04 982.47 L286.98 982.02 L287.9 981.6 L288.79 981.18 L289.68 980.73 L290.57 980.25 L291.44 979.75 L292.31 979.23 L293.17 978.7 L294.02 978.16 L294.85 977.61 L295.67 977.06 L296.46 976.5 L297.24 975.95 L298 975.4 L298.65 974.92 L299.27 974.45 L299.88 973.97 L300.47 973.49 L301.04 973.01 L301.61 972.52 L302.17 972.03 L302.73 971.53 L303.29 971.01 L303.85 970.49 L304.42 969.95 L305 969.4 L305.65 968.76 L306.31 968.1 L306.97 967.42 L307.63 966.73 L308.3 966.02 L308.96 965.31 L309.62 964.58 L310.27 963.86 L310.91 963.13 L311.55 962.41 L312.18 961.7 L312.8 961 L313.38 960.35 L313.95 959.72 L314.53 959.1 L315.09 958.48 L315.66 957.87 L316.22 957.25 L316.76 956.62 L317.3 955.98 L317.82 955.32 L318.33 954.64 L318.82 953.94 L319.3 953.2 L319.81 952.34 L320.31 951.45 L320.79 950.54 L321.26 949.6 L321.71 948.63 L322.15 947.65 L322.57 946.66 L322.97 945.65 L323.36 944.64 L323.72 943.63 L324.07 942.61 L324.4 941.6 L324.71 940.57 L325 939.54 L325.26 938.5 L325.51 937.45 L325.73 936.39 L325.94 935.33 L326.14 934.26 L326.32 933.18 L326.5 932.1 L326.67 931.01 L326.84 929.91 L327 928.8 L327.17 927.61 L327.32 926.41 L327.46 925.21 L327.59 923.99 L327.71 922.77 L327.82 921.54 L327.92 920.3 L328.02 919.05 L328.11 917.8 L328.21 916.54 L328.3 915.27 L328.4 914 L328.5 912.64 L328.6 911.28 L328.69 909.93 L328.78 908.57 L328.87 907.2 L328.95 905.82 L329.03 904.42 L329.1 903 L329.18 901.55 L329.25 900.07 L329.33 898.56 L329.4 897 L329.49 894.96 L329.58 892.85 L329.66 890.66 L329.74 888.42 L329.82 886.14 L329.89 883.82 L329.97 881.49 L330.04 879.15 L330.1 876.82 L330.17 874.51 L330.24 872.23 L330.3 870 L330.36 867.88 L330.42 865.75 L330.48 863.63 L330.53 861.52 L330.59 859.41 L330.64 857.31 L330.69 855.22 L330.74 853.14 L330.78 851.08 L330.83 849.03 L330.86 847.01 L330.9 845 L330.93 843.18 L330.95 841.38 L330.97 839.6 L330.99 837.83 L331.01 836.08 L331.02 834.34 L331.03 832.6 L331.05 830.87 L331.06 829.13 L331.07 827.4 L331.08 825.65 L331.1 823.9 L331.17 828.32 L331.23 832.81 L331.29 837.36 L331.35 841.93 L331.4 846.51 L331.46 851.06 L331.52 855.55 L331.59 859.97 L331.67 864.28 L331.77 868.45 L331.88 872.47 L332 876.3 L332.09 879.07 L332.15 881.81 L332.2 884.51 L332.25 887.16 L332.3 889.75 L332.37 892.28 L332.46 894.72 L332.59 897.07 L332.75 899.33 L332.97 901.48 L333.25 903.5 L333.6 905.4 L333.85 906.56 L334.1 907.69 L334.35 908.79 L334.62 909.85 L334.91 910.87 L335.22 911.85 L335.56 912.78 L335.92 913.65 L336.33 914.46 L336.77 915.21 L337.26 915.89 L337.8 916.5 L338.27 916.93 L338.77 917.32 L339.3 917.67 L339.85 917.98 L340.43 918.25 L341.03 918.49 L341.64 918.69 L342.27 918.85 L342.92 918.98 L343.57 919.09 L344.23 919.16 L344.9 919.2 L345.77 919.2 L346.68 919.12 L347.62 918.97 L348.6 918.77 L349.59 918.51 L350.6 918.21 L351.61 917.87 L352.62 917.5 L353.62 917.12 L354.61 916.71 L355.57 916.31 L356.5 915.9 L357.41 915.48 L358.32 915.03 L359.22 914.54 L360.11 914.04 L360.99 913.51 L361.86 912.96 L362.72 912.4 L363.57 911.83 L364.4 911.25 L365.22 910.67 L366.02 910.08 L366.8 909.5 L367.51 908.96 L368.2 908.42 L368.88 907.86 L369.55 907.31 L370.2 906.74 L370.85 906.17 L371.48 905.59 L372.1 905 L372.72 904.41 L373.32 903.82 L373.91 903.21 L374.5 902.6 L375.06 902 L375.61 901.41 L376.15 900.81 L376.68 900.2 L377.2 899.59 L377.71 898.97 L378.21 898.34 L378.7 897.7 L379.19 897.05 L379.66 896.38 L380.14 895.7 L380.6 895 L381.1 894.2 L381.6 893.38 L382.09 892.53 L382.56 891.67 L383.03 890.79 L383.49 889.89 L383.94 888.99 L384.37 888.09 L384.8 887.18 L385.21 886.28 L385.61 885.38 L386 884.5 L386.35 883.67 L386.69 882.83 L387.01 882 L387.32 881.16 L387.62 880.33 L387.91 879.49 L388.19 878.66 L388.47 877.83 L388.75 876.99 L389.03 876.16 L389.31 875.33 L389.6 874.5 L389.89 873.69 L390.18 872.89 L390.47 872.09 L390.77 871.29 L391.06 870.49 L391.35 869.69 L391.63 868.89 L391.91 868.09 L392.18 867.28 L392.43 866.46 L392.67 865.64 L392.9 864.8 L393.12 863.91 L393.33 863.02 L393.52 862.11 L393.71 861.2 L393.88 860.28 L394.04 859.36 L394.2 858.43 L394.35 857.5 L394.49 856.57 L394.63 855.64 L394.77 854.72 L394.9 853.8 L395.03 852.89 L395.15 851.99 L395.26 851.1 L395.37 850.2 L395.47 849.31 L395.57 848.41 L395.66 847.51 L395.75 846.61 L395.84 845.69 L395.92 844.77 L396.01 843.84 L396.1 842.9 L396.2 841.87 L396.29 840.83 L396.38 839.8 L396.47 838.76 L396.56 837.71 L396.64 836.65 L396.72 835.57 L396.8 834.48 L396.88 833.37 L396.96 832.24 L397.03 831.09 L397.1 829.9 L397.18 828.39 L397.27 826.84 L397.34 825.25 L397.41 823.63 L397.48 821.98 L397.55 820.31 L397.61 818.61 L397.68 816.89 L397.73 815.16 L397.79 813.41 L397.85 811.66 L397.9 809.9 L397.96 807.92 L398.01 805.91 L398.05 803.87 L398.1 801.8 L398.14 799.72 L398.18 797.62 L398.21 795.51 L398.25 793.4 L398.28 791.29 L398.32 789.18 L398.36 787.08 L398.4 785 L398.49 787.45 L398.55 789.96 L398.6 792.51 L398.65 795.08 L398.69 797.65 L398.75 800.2 L398.81 802.71 L398.9 805.16 L399.01 807.54 L399.17 809.81 L399.36 811.98 L399.6 814 L399.77 815.36 L399.91 816.74 L400.03 818.12 L400.15 819.48 L400.29 820.8 L400.46 822.07 L400.66 823.26 L400.92 824.36 L401.25 825.36 L401.67 826.22 L402.18 826.94 L402.8 827.5 L403.5 827.86 L404.31 828.07 L405.21 828.14 L406.19 828.11 L407.23 827.98 L408.32 827.77 L409.43 827.5 L410.55 827.19 L411.67 826.86 L412.76 826.52 L413.81 826.2 L414.8 825.9 L415.75 825.61 L416.69 825.28 L417.63 824.93 L418.55 824.54 L419.47 824.14 L420.38 823.71 L421.29 823.27 L422.19 822.81 L423.09 822.34 L423.99 821.86 L424.9 821.38 L425.8 820.9 L426.75 820.39 L427.7 819.88 L428.65 819.35 L429.61 818.81 L430.56 818.26 L431.5 817.7 L432.44 817.12 L433.38 816.53 L434.3 815.92 L435.22 815.3 L436.12 814.66 L437 814 L437.89 813.31 L438.78 812.61 L439.65 811.89 L440.52 811.15 L441.38 810.4 L442.23 809.63 L443.07 808.85 L443.89 808.05 L444.69 807.23 L445.48 806.4 L446.25 805.56 L447 804.7 L447.74 803.81 L448.47 802.9 L449.19 801.98 L449.89 801.04 L450.58 800.08 L451.25 799.11 L451.89 798.13 L452.52 797.13 L453.13 796.11 L453.71 795.09 L454.27 794.05 L454.8 793 L455.31 791.91 L455.8 790.81 L456.26 789.69 L456.69 788.56 L457.1 787.42 L457.49 786.26 L457.86 785.08 L458.21 783.9 L458.55 782.69 L458.87 781.48 L459.19 780.25 L459.5 779 L459.83 777.6 L460.13 776.18 L460.42 774.74 L460.68 773.29 L460.93 771.82 L461.16 770.33 L461.37 768.82 L461.58 767.3 L461.77 765.75 L461.95 764.19 L462.13 762.6 L462.3 761 L462.48 759.13 L462.64 757.23 L462.78 755.3 L462.91 753.34 L463.02 751.36 L463.12 749.35 L463.21 747.33 L463.29 745.29 L463.37 743.23 L463.44 741.16 L463.52 739.09 L463.6 737 L463.68 734.7 L463.76 732.38 L463.83 730.03 L463.89 727.65 L463.94 725.26 L464 722.86 L464.05 720.44 L464.09 718.03 L464.14 715.61 L464.19 713.2 L464.24 710.79 L464.3 708.4 L464.42 710.82 L464.52 713.28 L464.62 715.79 L464.71 718.31 L464.8 720.83 L464.89 723.33 L465 725.8 L465.11 728.21 L465.25 730.56 L465.4 732.82 L465.59 734.97 L465.8 737 L465.95 738.39 L466.08 739.77 L466.21 741.14 L466.33 742.47 L466.46 743.77 L466.61 745.03 L466.79 746.24 L467 747.38 L467.26 748.46 L467.57 749.46 L467.95 750.38 L468.4 751.2 L468.75 751.73 L469.13 752.22 L469.52 752.69 L469.94 753.13 L470.38 753.53 L470.84 753.9 L471.33 754.23 L471.83 754.53 L472.36 754.78 L472.92 755 L473.5 755.17 L474.1 755.3 L475.04 755.39 L476.07 755.37 L477.17 755.23 L478.33 755.01 L479.54 754.7 L480.79 754.32 L482.07 753.88 L483.35 753.39 L484.64 752.87 L485.92 752.32 L487.18 751.76 L488.4 751.2 L489.83 750.51 L491.28 749.76 L492.75 748.94 L494.24 748.07 L495.72 747.15 L497.2 746.19 L498.66 745.19 L500.11 744.15 L501.52 743.09 L502.89 742.01 L504.22 740.91 L505.5 739.8 L506.7 738.7 L507.88 737.58 L509.04 736.42 L510.17 735.24 L511.28 734.03 L512.35 732.8 L513.39 731.55 L514.4 730.27 L515.36 728.98 L516.29 727.67 L517.17 726.34 L518 725 L518.76 723.68 L519.47 722.34 L520.14 720.99 L520.77 719.61 L521.36 718.22 L521.92 716.81 L522.44 715.38 L522.95 713.94 L523.43 712.47 L523.9 711 L524.35 709.51 L524.8 708 L525.26 706.35 L525.69 704.68 L526.1 702.98 L526.47 701.26 L526.83 699.52 L527.16 697.77 L527.47 696 L527.76 694.22 L528.04 692.42 L528.3 690.62 L528.56 688.81 L528.8 687 L529.04 685.07 L529.26 683.13 L529.45 681.19 L529.62 679.23 L529.78 677.26 L529.92 675.28 L530.05 673.28 L530.17 671.27 L530.28 669.23 L530.39 667.18 L530.49 665.1 L530.6 663 L530.71 660.62 L530.81 658.2 L530.89 655.74 L530.96 653.25 L531.02 650.74 L531.08 648.21 L531.13 645.67 L531.18 643.13 L531.23 640.58 L531.28 638.04 L531.34 635.51 L531.4 633 L531.49 634.77 L531.58 636.58 L531.66 638.42 L531.73 640.27 L531.81 642.12 L531.88 643.95 L531.97 645.76 L532.06 647.54 L532.17 649.26 L532.29 650.92 L532.44 652.5 L532.6 654 L532.71 655.04 L532.78 656.09 L532.83 657.14 L532.87 658.17 L532.92 659.17 L532.99 660.14 L533.09 661.06 L533.24 661.93 L533.46 662.72 L533.74 663.44 L534.12 664.07 L534.6 664.6 L535.2 665.04 L535.89 665.38 L536.68 665.65 L537.53 665.84 L538.46 665.97 L539.43 666.02 L540.44 666.03 L541.47 665.98 L542.52 665.88 L543.56 665.75 L544.59 665.59 L545.6 665.4 L546.93 665.07 L548.29 664.63 L549.68 664.08 L551.09 663.43 L552.53 662.71 L553.98 661.93 L555.45 661.09 L556.92 660.22 L558.39 659.32 L559.87 658.41 L561.34 657.5 L562.8 656.6 L564.48 655.58 L566.23 654.51 L568.03 653.4 L569.85 652.25 L571.67 651.07 L573.48 649.86 L575.25 648.64 L576.97 647.39 L578.6 646.12 L580.13 644.85 L581.54 643.58 L582.8 642.3 L583.67 641.33 L584.48 640.36 L585.23 639.4 L585.92 638.43 L586.57 637.46 L587.18 636.47 L587.75 635.47 L588.3 634.44 L588.82 633.38 L589.32 632.29 L589.81 631.17 L590.3 630 L590.85 628.56 L591.36 627.06 L591.83 625.51 L592.27 623.92 L592.67 622.29 L593.04 620.63 L593.38 618.93 L593.71 617.22 L594.02 615.48 L594.32 613.73 L594.61 611.97 L594.9 610.2 L595.21 608.2 L595.49 606.17 L595.74 604.12 L595.97 602.04 L596.18 599.93 L596.37 597.8 L596.54 595.65 L596.71 593.48 L596.86 591.29 L597.01 589.08 L597.16 586.85 L597.3 584.6 L597.45 582.05 L597.58 579.46 L597.69 576.83 L597.79 574.17 L597.88 571.49 L597.95 568.78 L598.03 566.06 L598.1 563.34 L598.16 560.61 L598.24 557.89 L598.31 555.19 L598.4 552.5 L598.54 554.65 L598.67 556.86 L598.79 559.09 L598.91 561.34 L599.03 563.59 L599.15 565.82 L599.28 568.02 L599.42 570.18 L599.58 572.27 L599.76 574.28 L599.97 576.2 L600.2 578 L600.35 579.24 L600.47 580.49 L600.57 581.74 L600.66 582.96 L600.76 584.16 L600.88 585.31 L601.04 586.4 L601.25 587.42 L601.52 588.35 L601.88 589.19 L602.34 589.91 L602.9 590.5 L603.53 590.94 L604.25 591.28 L605.05 591.53 L605.92 591.7 L606.85 591.79 L607.82 591.82 L608.83 591.79 L609.87 591.7 L610.93 591.57 L611.99 591.41 L613.05 591.21 L614.1 591 L615.6 590.62 L617.18 590.1 L618.82 589.46 L620.5 588.71 L622.22 587.88 L623.95 586.98 L625.7 586.03 L627.44 585.04 L629.16 584.02 L630.86 583 L632.51 581.99 L634.1 581 L635.64 580.04 L637.19 579.07 L638.76 578.08 L640.31 577.06 L641.85 576.03 L643.36 574.97 L644.83 573.89 L646.25 572.78 L647.61 571.65 L648.89 570.5 L650.09 569.31 L651.2 568.1 L652.08 567.03 L652.9 565.95 L653.66 564.85 L654.37 563.74 L655.03 562.61 L655.65 561.45 L656.24 560.28 L656.79 559.08 L657.32 557.85 L657.83 556.6 L658.32 555.31 L658.8 554 L659.32 552.45 L659.8 550.84 L660.23 549.2 L660.62 547.52 L660.98 545.8 L661.3 544.06 L661.6 542.29 L661.88 540.49 L662.15 538.69 L662.41 536.86 L662.65 535.03 L662.9 533.2 L663.16 531.17 L663.39 529.12 L663.59 527.06 L663.77 524.98 L663.93 522.88 L664.07 520.76 L664.21 518.61 L664.33 516.44 L664.45 514.23 L664.56 511.99 L664.68 509.71 L664.8 507.4 L664.94 504.6 L665.07 501.72 L665.18 498.78 L665.28 495.79 L665.38 492.75 L665.47 489.68 L665.56 486.59 L665.64 483.49 L665.73 480.39 L665.81 477.3 L665.9 474.24 L666 471.2 L666.14 472.95 L666.26 474.74 L666.38 476.55 L666.49 478.37 L666.59 480.2 L666.71 482.01 L666.83 483.79 L666.97 485.55 L667.13 487.26 L667.32 488.91 L667.54 490.49 L667.8 492 L668 493.13 L668.17 494.28 L668.34 495.45 L668.51 496.62 L668.69 497.76 L668.89 498.85 L669.13 499.88 L669.41 500.83 L669.75 501.67 L670.15 502.39 L670.63 502.98 L671.2 503.4 L671.87 503.64 L672.65 503.72 L673.52 503.64 L674.46 503.44 L675.45 503.14 L676.49 502.76 L677.54 502.32 L678.61 501.85 L679.66 501.37 L680.69 500.9 L681.67 500.47 L682.6 500.1 L683.42 499.78 L684.2 499.46 L684.97 499.13 L685.71 498.79 L686.45 498.44 L687.19 498.09 L687.94 497.72 L688.69 497.34 L689.47 496.95 L690.28 496.55 L691.12 496.13 L692 495.7 L693.32 495.07 L694.74 494.39 L696.23 493.68 L697.79 492.94 L699.39 492.18 L701 491.4 L702.62 490.61 L704.22 489.81 L705.77 489.02 L707.27 488.23 L708.68 487.46 L710 486.7 L710.97 486.13 L711.91 485.57 L712.83 485.02 L713.72 484.48 L714.59 483.94 L715.43 483.39 L716.25 482.83 L717.05 482.27 L717.82 481.69 L718.57 481.08 L719.3 480.46 L720 479.8 L720.63 479.17 L721.24 478.53 L721.83 477.89 L722.39 477.23 L722.94 476.55 L723.47 475.86 L723.97 475.15 L724.46 474.43 L724.92 473.68 L725.37 472.91 L725.79 472.12 L726.2 471.3 L726.64 470.32 L727.04 469.3 L727.41 468.25 L727.75 467.17 L728.07 466.07 L728.36 464.93 L728.63 463.78 L728.89 462.61 L729.13 461.42 L729.36 460.22 L729.58 459.01 L729.8 457.8 L730.03 456.41 L730.24 454.99 L730.42 453.56 L730.59 452.11 L730.73 450.63 L730.86 449.14 L730.98 447.63 L731.09 446.1 L731.19 444.55 L731.3 442.98 L731.4 441.4 L731.5 439.8 L731.62 437.92 L731.72 435.99 L731.81 434.02 L731.9 432.02 L731.97 429.99 L732.04 427.95 L732.11 425.9 L732.17 423.85 L732.23 421.8 L732.29 419.78 L732.34 417.77 L732.4 415.8 L732.45 413.94 L732.5 412.09 L732.55 410.25 L732.59 408.43 L732.63 406.6 L732.67 404.79 L732.71 402.97 L732.75 401.16 L732.78 399.35 L732.82 397.54 L732.86 395.72 L732.9 393.9 L733 395.77 L733.1 397.67 L733.18 399.61 L733.27 401.55 L733.35 403.5 L733.44 405.43 L733.53 407.34 L733.64 409.21 L733.75 411.02 L733.88 412.76 L734.03 414.43 L734.2 416 L734.31 417.09 L734.38 418.18 L734.43 419.27 L734.48 420.34 L734.53 421.39 L734.6 422.4 L734.71 423.36 L734.86 424.26 L735.07 425.08 L735.35 425.82 L735.73 426.46 L736.2 427 L736.73 427.4 L737.34 427.72 L738.02 427.96 L738.76 428.13 L739.55 428.23 L740.39 428.28 L741.26 428.28 L742.16 428.24 L743.09 428.16 L744.02 428.06 L744.96 427.94 L745.9 427.8 L747.34 427.53 L748.87 427.15 L750.48 426.67 L752.15 426.09 L753.86 425.45 L755.61 424.74 L757.37 423.97 L759.14 423.17 L760.89 422.34 L762.61 421.49 L764.28 420.64 L765.9 419.8 L767.5 418.94 L769.12 418.04 L770.75 417.1 L772.38 416.12 L774 415.12 L775.59 414.09 L777.14 413.05 L778.64 412 L780.08 410.94 L781.44 409.88 L782.72 408.84 L783.9 407.8 L784.72 407.04 L785.5 406.29 L786.24 405.56 L786.94 404.82 L787.61 404.08 L788.24 403.33 L788.84 402.57 L789.42 401.8 L789.97 401 L790.5 400.17 L791.01 399.3 L791.5 398.4 L792.02 397.35 L792.49 396.27 L792.92 395.15 L793.31 394 L793.67 392.83 L794.01 391.62 L794.32 390.39 L794.62 389.14 L794.9 387.86 L795.17 386.56 L795.43 385.24 L795.7 383.9 L796.01 382.24 L796.28 380.53 L796.54 378.77 L796.76 376.96 L796.97 375.13 L797.16 373.27 L797.34 371.38 L797.5 369.49 L797.65 367.59 L797.8 365.68 L797.95 363.78 L798.1 361.9 L798.25 359.94 L798.38 357.96 L798.51 355.96 L798.62 353.96 L798.72 351.95 L798.82 349.93 L798.91 347.92 L798.99 345.9 L799.07 343.89 L799.15 341.88 L799.22 339.88 L799.3 337.9 L799.37 335.97 L799.43 334.05 L799.49 332.14 L799.54 330.23 L799.59 328.32 L799.64 326.42 L799.68 324.52 L799.72 322.61 L799.76 320.71 L799.81 318.81 L799.85 316.91 L799.9 315 L800.01 316.52 L800.1 318.07 L800.18 319.64 L800.26 321.22 L800.34 322.81 L800.42 324.38 L800.51 325.93 L800.62 327.45 L800.75 328.93 L800.9 330.35 L801.08 331.71 L801.3 333 L801.46 333.94 L801.61 334.9 L801.75 335.88 L801.89 336.85 L802.04 337.79 L802.21 338.69 L802.42 339.54 L802.66 340.32 L802.95 341.01 L803.29 341.6 L803.71 342.07 L804.2 342.4 L804.85 342.59 L805.6 342.58 L806.43 342.41 L807.34 342.1 L808.3 341.68 L809.32 341.18 L810.37 340.62 L811.45 340.03 L812.55 339.44 L813.65 338.86 L814.73 338.34 L815.8 337.9 L817.07 337.43 L818.37 336.94 L819.7 336.45 L821.05 335.95 L822.43 335.45 L823.82 334.95 L825.22 334.44 L826.63 333.93 L828.03 333.42 L829.43 332.91 L830.82 332.4 L832.2 331.9" fill="none" stroke="#4DBEEE" stroke-width="5.6" stroke-dasharray="5.6 5.13" stroke-linejoin="miter"/>
</g>
<g><g stroke="#0072BD" stroke-width="22.95" stroke-linecap="round" fill="none"><line x1="1043.9" y1="1035.5" x2="1172.97" y2="1035.5"/><line x1="1174.58" y1="783.62" x2="1308.98" y2="783.62"/><line x1="1310.59" y1="531.75" x2="1443.55" y2="531.75"/><line x1="1445.15" y1="279.87" x2="1577.76" y2="279.87"/><line x1="1579.36" y1="28" x2="1713.2" y2="28"/></g>
<g fill="#D95319" stroke="none"><polygon points="1035.8,1027.4 1721.3,1027.4 1714.1,1035.5 1721.3,1043.6 1035.8,1043.6 1043,1035.5"/></g>
<path d="M1043.9 1161.43 L1044.4 1102.27 Q1044.44 1098.47 1048.24 1098.47 L1169.71 1098.47 Q1173.51 1098.47 1173.51 1094.67 L1173.51 1035.5" fill="none" stroke="#EDB120" stroke-width="5.6" stroke-dasharray="21.6 21.3" stroke-dashoffset="42.6" stroke-linejoin="round"/>
<path d="M1173.51 1035.5 L1173.51 976.33 Q1173.51 972.53 1177.31 972.53 L1305.72 972.53 Q1309.52 972.53 1309.52 968.73 L1309.52 850.39 Q1309.52 846.59 1313.32 846.59 L1440.28 846.59 Q1444.08 846.59 1444.08 842.79 L1444.08 724.45 Q1444.08 720.65 1447.88 720.65 L1574.49 720.65 Q1578.29 720.65 1578.29 716.85 L1578.29 598.52 Q1578.29 594.72 1582.09 594.72 L1708.06 594.72 Q1711.86 594.72 1711.9 590.92 L1713.2 468.78" fill="none" stroke="#EDB120" stroke-width="5.6" stroke-dasharray="21.6 21.3" stroke-dashoffset="34.95" stroke-linejoin="round"/>
<path d="M1043.9 1161.43 L1044.4 1102.27 Q1044.44 1098.47 1048.24 1098.47 L1169.71 1098.47 Q1173.51 1098.47 1173.51 1102.27 L1173.51 1220.6 Q1173.51 1224.4 1177.31 1224.4 L1305.72 1224.4 Q1309.52 1224.4 1309.52 1220.6 L1309.52 1102.27 Q1309.52 1098.47 1313.32 1098.47 L1440.28 1098.47 Q1444.08 1098.47 1444.08 1102.27 L1444.08 1220.6 Q1444.08 1224.4 1447.88 1224.4 L1574.49 1224.4 Q1578.29 1224.4 1578.29 1220.6 L1578.29 1102.27 Q1578.29 1098.47 1582.09 1098.47 L1708.06 1098.47 Q1711.86 1098.47 1711.9 1102.27 L1713.2 1224.4" fill="none" stroke="#7E2F8E" stroke-width="5.6" stroke-dasharray="21.6 5.3 10.7 5.3" stroke-dashoffset="42.6" stroke-linejoin="round"/>
<path d="M1043.9 864 L1043.94 867.73 L1043.98 871.48 L1044.01 875.26 L1044.05 879.05 L1044.08 882.84 L1044.11 886.62 L1044.15 890.37 L1044.19 894.1 L1044.24 897.79 L1044.28 901.42 L1044.34 905 L1044.4 908.5 L1044.46 911.53 L1044.52 914.53 L1044.59 917.51 L1044.66 920.47 L1044.73 923.39 L1044.81 926.27 L1044.89 929.12 L1044.97 931.93 L1045.05 934.7 L1045.13 937.41 L1045.22 940.08 L1045.3 942.7 L1045.37 944.83 L1045.43 946.91 L1045.5 948.95 L1045.56 950.95 L1045.63 952.92 L1045.69 954.87 L1045.76 956.8 L1045.84 958.72 L1045.92 960.63 L1046 962.54 L1046.1 964.46 L1046.2 966.4 L1046.3 968.29 L1046.41 970.18 L1046.52 972.08 L1046.63 973.97 L1046.75 975.86 L1046.87 977.74 L1047 979.61 L1047.14 981.47 L1047.29 983.31 L1047.45 985.13 L1047.62 986.93 L1047.8 988.7 L1047.97 990.28 L1048.16 991.85 L1048.34 993.41 L1048.54 994.95 L1048.75 996.48 L1048.96 998 L1049.18 999.5 L1049.4 1000.99 L1049.64 1002.46 L1049.88 1003.92 L1050.14 1005.37 L1050.4 1006.8 L1050.64 1008.07 L1050.89 1009.31 L1051.13 1010.53 L1051.39 1011.72 L1051.65 1012.9 L1051.92 1014.08 L1052.19 1015.26 L1052.49 1016.46 L1052.79 1017.67 L1053.11 1018.91 L1053.45 1020.18 L1053.8 1021.5 L1054.26 1023.2 L1054.74 1024.99 L1055.24 1026.83 L1055.75 1028.73 L1056.29 1030.65 L1056.85 1032.58 L1057.44 1034.51 L1058.04 1036.42 L1058.67 1038.29 L1059.32 1040.11 L1060 1041.85 L1060.7 1043.5 L1061.3 1044.86 L1061.91 1046.21 L1062.51 1047.54 L1063.13 1048.85 L1063.77 1050.13 L1064.42 1051.38 L1065.11 1052.59 L1065.83 1053.75 L1066.6 1054.86 L1067.41 1055.91 L1068.27 1056.89 L1069.2 1057.8 L1070.15 1058.63 L1071.15 1059.43 L1072.2 1060.21 L1073.3 1060.95 L1074.44 1061.64 L1075.6 1062.27 L1076.8 1062.83 L1078.01 1063.32 L1079.23 1063.72 L1080.46 1064.02 L1081.68 1064.22 L1082.9 1064.3 L1084.27 1064.24 L1085.67 1064.03 L1087.11 1063.69 L1088.56 1063.23 L1090.03 1062.66 L1091.51 1061.99 L1092.98 1061.24 L1094.45 1060.43 L1095.9 1059.57 L1097.33 1058.67 L1098.74 1057.74 L1100.1 1056.8 L1101.64 1055.66 L1103.16 1054.41 L1104.66 1053.07 L1106.15 1051.64 L1107.62 1050.14 L1109.07 1048.58 L1110.49 1046.99 L1111.89 1045.37 L1113.26 1043.74 L1114.61 1042.1 L1115.92 1040.49 L1117.2 1038.9 L1118.4 1037.39 L1119.57 1035.88 L1120.7 1034.36 L1121.82 1032.83 L1122.9 1031.28 L1123.97 1029.73 L1125.01 1028.16 L1126.04 1026.57 L1127.05 1024.96 L1128.04 1023.33 L1129.03 1021.68 L1130 1020 L1131.01 1018.2 L1131.99 1016.39 L1132.94 1014.56 L1133.88 1012.71 L1134.79 1010.83 L1135.69 1008.94 L1136.58 1007.02 L1137.46 1005.07 L1138.34 1003.1 L1139.22 1001.09 L1140.11 999.06 L1141 997 L1142.03 994.61 L1143.07 992.17 L1144.12 989.7 L1145.16 987.18 L1146.2 984.64 L1147.23 982.06 L1148.25 979.44 L1149.25 976.81 L1150.23 974.14 L1151.19 971.45 L1152.11 968.73 L1153 966 L1153.93 963 L1154.84 959.97 L1155.71 956.89 L1156.57 953.79 L1157.39 950.65 L1158.2 947.48 L1158.97 944.29 L1159.73 941.07 L1160.46 937.83 L1161.16 934.57 L1161.84 931.29 L1162.5 928 L1163.17 924.46 L1163.81 920.88 L1164.42 917.26 L1165.01 913.61 L1165.56 909.93 L1166.09 906.24 L1166.59 902.53 L1167.08 898.81 L1167.53 895.1 L1167.97 891.38 L1168.4 887.68 L1168.8 884 L1169.18 880.33 L1169.54 876.65 L1169.87 872.96 L1170.18 869.26 L1170.46 865.57 L1170.73 861.87 L1170.98 858.18 L1171.21 854.51 L1171.43 850.85 L1171.63 847.21 L1171.82 843.59 L1172 840 L1172.15 836.61 L1172.29 833.23 L1172.4 829.85 L1172.5 826.49 L1172.59 823.14 L1172.66 819.81 L1172.73 816.5 L1172.78 813.21 L1172.84 809.94 L1172.89 806.7 L1172.94 803.48 L1173 800.3 L1173.05 797.42 L1173.1 794.57 L1173.13 791.75 L1173.17 788.95 L1173.2 786.18 L1173.23 783.42 L1173.26 780.67 L1173.28 777.93 L1173.31 775.18 L1173.34 772.43 L1173.37 769.67 L1173.4 766.9 L1173.49 771.37 L1173.57 775.9 L1173.66 780.48 L1173.74 785.08 L1173.82 789.68 L1173.9 794.26 L1173.99 798.8 L1174.08 803.26 L1174.17 807.64 L1174.27 811.9 L1174.38 816.03 L1174.5 820 L1174.59 823.01 L1174.67 825.97 L1174.75 828.87 L1174.83 831.72 L1174.91 834.51 L1174.99 837.25 L1175.09 839.93 L1175.21 842.55 L1175.34 845.12 L1175.5 847.64 L1175.68 850.1 L1175.9 852.5 L1176.08 854.36 L1176.26 856.18 L1176.43 857.97 L1176.62 859.72 L1176.81 861.44 L1177.03 863.12 L1177.26 864.77 L1177.53 866.39 L1177.83 867.97 L1178.17 869.51 L1178.56 871.02 L1179 872.5 L1179.4 873.73 L1179.8 874.95 L1180.22 876.14 L1180.66 877.31 L1181.12 878.45 L1181.61 879.57 L1182.14 880.66 L1182.72 881.71 L1183.34 882.74 L1184.03 883.73 L1184.78 884.68 L1185.6 885.6 L1186.62 886.62 L1187.74 887.65 L1188.95 888.67 L1190.23 889.66 L1191.58 890.61 L1192.98 891.51 L1194.43 892.33 L1195.92 893.06 L1197.43 893.69 L1198.95 894.2 L1200.48 894.57 L1202 894.8 L1203.75 894.86 L1205.55 894.73 L1207.4 894.42 L1209.3 893.96 L1211.22 893.37 L1213.17 892.67 L1215.13 891.87 L1217.1 891 L1219.07 890.08 L1221.03 889.12 L1222.98 888.16 L1224.9 887.2 L1227.1 886.06 L1229.33 884.81 L1231.58 883.47 L1233.84 882.05 L1236.09 880.56 L1238.34 879.02 L1240.57 877.42 L1242.76 875.8 L1244.93 874.15 L1247.04 872.5 L1249.1 870.84 L1251.1 869.2 L1252.92 867.67 L1254.7 866.13 L1256.45 864.59 L1258.16 863.02 L1259.84 861.44 L1261.49 859.84 L1263.11 858.21 L1264.7 856.54 L1266.27 854.84 L1267.8 853.11 L1269.31 851.33 L1270.8 849.5 L1272.34 847.52 L1273.87 845.49 L1275.37 843.42 L1276.84 841.3 L1278.28 839.14 L1279.69 836.95 L1281.06 834.73 L1282.39 832.48 L1283.67 830.21 L1284.9 827.92 L1286.08 825.61 L1287.2 823.3 L1288.26 820.97 L1289.26 818.61 L1290.2 816.24 L1291.09 813.84 L1291.94 811.42 L1292.74 808.98 L1293.51 806.51 L1294.24 804.02 L1294.96 801.5 L1295.65 798.96 L1296.33 796.39 L1297 793.8 L1297.71 790.94 L1298.38 788.05 L1299.03 785.11 L1299.64 782.14 L1300.22 779.15 L1300.77 776.12 L1301.3 773.08 L1301.8 770.02 L1302.28 766.95 L1302.74 763.87 L1303.18 760.78 L1303.6 757.7 L1304.01 754.49 L1304.37 751.26 L1304.71 748.01 L1305.02 744.74 L1305.3 741.47 L1305.56 738.18 L1305.8 734.88 L1306.03 731.58 L1306.25 728.28 L1306.47 724.98 L1306.68 721.68 L1306.9 718.4 L1307.11 715.1 L1307.31 711.77 L1307.5 708.42 L1307.68 705.06 L1307.85 701.7 L1308.01 698.35 L1308.17 695.02 L1308.32 691.72 L1308.47 688.45 L1308.61 685.24 L1308.76 682.08 L1308.9 679 L1309.02 676.39 L1309.14 673.84 L1309.25 671.33 L1309.36 668.85 L1309.47 666.41 L1309.57 663.98 L1309.68 661.58 L1309.78 659.18 L1309.88 656.78 L1309.99 654.37 L1310.09 651.94 L1310.2 649.5 L1310.27 651.38 L1310.34 653.26 L1310.41 655.14 L1310.48 657.03 L1310.54 658.92 L1310.61 660.8 L1310.68 662.68 L1310.75 664.56 L1310.83 666.43 L1310.91 668.3 L1311 670.15 L1311.1 672 L1311.19 673.78 L1311.28 675.56 L1311.36 677.33 L1311.43 679.11 L1311.52 680.87 L1311.61 682.63 L1311.71 684.38 L1311.84 686.13 L1311.98 687.86 L1312.15 689.59 L1312.36 691.3 L1312.6 693 L1312.84 694.66 L1313.06 696.38 L1313.27 698.13 L1313.5 699.89 L1313.75 701.65 L1314.02 703.37 L1314.35 705.04 L1314.73 706.64 L1315.19 708.15 L1315.72 709.54 L1316.36 710.8 L1317.1 711.9 L1317.76 712.67 L1318.46 713.39 L1319.22 714.06 L1320.02 714.68 L1320.86 715.24 L1321.75 715.73 L1322.68 716.17 L1323.64 716.54 L1324.63 716.84 L1325.66 717.07 L1326.72 717.22 L1327.8 717.3 L1329.54 717.23 L1331.41 716.9 L1333.38 716.36 L1335.46 715.63 L1337.61 714.74 L1339.83 713.72 L1342.09 712.6 L1344.38 711.42 L1346.68 710.19 L1348.98 708.96 L1351.26 707.75 L1353.5 706.6 L1356.11 705.26 L1358.79 703.83 L1361.53 702.33 L1364.3 700.77 L1367.09 699.16 L1369.87 697.51 L1372.64 695.83 L1375.37 694.13 L1378.05 692.43 L1380.66 690.73 L1383.18 689.05 L1385.6 687.4 L1387.6 686.01 L1389.56 684.63 L1391.48 683.25 L1393.36 681.87 L1395.21 680.49 L1397.01 679.1 L1398.78 677.7 L1400.5 676.28 L1402.19 674.83 L1403.83 673.36 L1405.44 671.85 L1407 670.3 L1408.44 668.8 L1409.84 667.26 L1411.22 665.69 L1412.55 664.09 L1413.85 662.48 L1415.12 660.84 L1416.34 659.2 L1417.53 657.55 L1418.68 655.9 L1419.79 654.25 L1420.87 652.62 L1421.9 651 L1422.78 649.59 L1423.62 648.2 L1424.42 646.83 L1425.19 645.46 L1425.94 644.1 L1426.65 642.72 L1427.34 641.33 L1428.01 639.92 L1428.66 638.48 L1429.28 637 L1429.9 635.48 L1430.5 633.9 L1431.18 631.97 L1431.84 629.98 L1432.46 627.93 L1433.05 625.83 L1433.62 623.69 L1434.15 621.51 L1434.67 619.31 L1435.16 617.09 L1435.62 614.86 L1436.07 612.63 L1436.49 610.41 L1436.9 608.2 L1437.29 605.94 L1437.65 603.67 L1437.97 601.4 L1438.26 599.11 L1438.54 596.82 L1438.79 594.52 L1439.03 592.2 L1439.25 589.87 L1439.46 587.53 L1439.68 585.17 L1439.89 582.79 L1440.1 580.4 L1440.33 577.82 L1440.54 575.24 L1440.74 572.65 L1440.94 570.05 L1441.12 567.43 L1441.3 564.79 L1441.46 562.12 L1441.62 559.43 L1441.78 556.7 L1441.92 553.94 L1442.06 551.14 L1442.2 548.3 L1442.35 544.98 L1442.48 541.64 L1442.6 538.27 L1442.71 534.85 L1442.81 531.4 L1442.9 527.9 L1442.99 524.34 L1443.07 520.73 L1443.16 517.05 L1443.24 513.31 L1443.32 509.49 L1443.4 505.6 L1443.5 500.64 L1443.6 495.52 L1443.69 490.25 L1443.77 484.86 L1443.85 479.37 L1443.93 473.81 L1444.01 468.21 L1444.09 462.58 L1444.16 456.95 L1444.24 451.34 L1444.32 445.79 L1444.4 440.3 L1444.47 443.2 L1444.54 446.11 L1444.61 449.03 L1444.68 451.96 L1444.75 454.89 L1444.82 457.81 L1444.89 460.72 L1444.96 463.62 L1445.04 466.5 L1445.12 469.36 L1445.21 472.2 L1445.3 475 L1445.39 477.59 L1445.47 480.17 L1445.56 482.75 L1445.64 485.31 L1445.73 487.86 L1445.83 490.39 L1445.93 492.9 L1446.04 495.38 L1446.16 497.84 L1446.29 500.26 L1446.44 502.65 L1446.6 505 L1446.74 507.05 L1446.88 509.12 L1447.01 511.18 L1447.14 513.24 L1447.28 515.27 L1447.44 517.27 L1447.62 519.22 L1447.82 521.13 L1448.05 522.97 L1448.32 524.73 L1448.64 526.41 L1449 528 L1449.28 529.09 L1449.57 530.17 L1449.87 531.24 L1450.18 532.28 L1450.51 533.28 L1450.85 534.25 L1451.22 535.17 L1451.62 536.04 L1452.04 536.84 L1452.49 537.57 L1452.98 538.23 L1453.5 538.8 L1453.9 539.16 L1454.3 539.49 L1454.71 539.79 L1455.13 540.05 L1455.57 540.27 L1456.02 540.47 L1456.5 540.63 L1457 540.76 L1457.52 540.86 L1458.08 540.94 L1458.67 540.98 L1459.3 541 L1460.69 540.9 L1462.26 540.61 L1463.99 540.16 L1465.84 539.56 L1467.81 538.83 L1469.86 538.02 L1471.98 537.12 L1474.15 536.18 L1476.33 535.21 L1478.52 534.25 L1480.68 533.3 L1482.8 532.4 L1485.34 531.33 L1487.97 530.2 L1490.68 529.02 L1493.43 527.79 L1496.22 526.53 L1499.02 525.24 L1501.81 523.93 L1504.56 522.61 L1507.27 521.29 L1509.91 519.98 L1512.46 518.68 L1514.9 517.4 L1516.87 516.35 L1518.8 515.31 L1520.69 514.28 L1522.54 513.26 L1524.36 512.23 L1526.14 511.2 L1527.89 510.15 L1529.62 509.09 L1531.32 508.01 L1533 506.91 L1534.66 505.77 L1536.3 504.6 L1537.86 503.46 L1539.41 502.29 L1540.94 501.12 L1542.46 499.92 L1543.96 498.71 L1545.42 497.47 L1546.86 496.22 L1548.26 494.94 L1549.62 493.64 L1550.93 492.32 L1552.19 490.97 L1553.4 489.6 L1554.49 488.29 L1555.54 486.95 L1556.55 485.6 L1557.52 484.23 L1558.46 482.84 L1559.36 481.43 L1560.23 479.99 L1561.06 478.54 L1561.86 477.06 L1562.64 475.57 L1563.38 474.04 L1564.1 472.5 L1564.82 470.84 L1565.49 469.14 L1566.12 467.4 L1566.72 465.64 L1567.28 463.85 L1567.81 462.04 L1568.31 460.22 L1568.79 458.39 L1569.24 456.56 L1569.67 454.73 L1570.09 452.91 L1570.5 451.1 L1570.88 449.34 L1571.23 447.6 L1571.55 445.88 L1571.84 444.16 L1572.12 442.43 L1572.38 440.7 L1572.62 438.95 L1572.85 437.17 L1573.07 435.37 L1573.28 433.53 L1573.49 431.64 L1573.7 429.7 L1573.95 427.26 L1574.18 424.74 L1574.39 422.16 L1574.58 419.52 L1574.76 416.84 L1574.93 414.12 L1575.09 411.38 L1575.24 408.61 L1575.39 405.85 L1575.53 403.08 L1575.66 400.33 L1575.8 397.6 L1575.94 394.83 L1576.06 392.09 L1576.18 389.37 L1576.29 386.65 L1576.39 383.93 L1576.48 381.18 L1576.58 378.41 L1576.66 375.59 L1576.75 372.71 L1576.83 369.76 L1576.92 366.73 L1577 363.6 L1577.1 359.44 L1577.2 355.12 L1577.29 350.66 L1577.38 346.08 L1577.46 341.4 L1577.54 336.65 L1577.61 331.86 L1577.69 327.04 L1577.76 322.22 L1577.84 317.42 L1577.92 312.68 L1578 308 L1578.08 310.01 L1578.16 312.05 L1578.24 314.1 L1578.31 316.16 L1578.39 318.22 L1578.46 320.27 L1578.54 322.3 L1578.62 324.32 L1578.71 326.3 L1578.8 328.25 L1578.9 330.15 L1579 332 L1579.09 333.52 L1579.16 335.02 L1579.23 336.5 L1579.31 337.96 L1579.38 339.4 L1579.46 340.82 L1579.55 342.22 L1579.66 343.59 L1579.78 344.93 L1579.93 346.25 L1580.1 347.54 L1580.3 348.8 L1580.47 349.84 L1580.62 350.89 L1580.76 351.94 L1580.91 353 L1581.07 354.03 L1581.26 355.03 L1581.47 356 L1581.72 356.91 L1582.02 357.76 L1582.38 358.53 L1582.8 359.21 L1583.3 359.8 L1583.78 360.23 L1584.31 360.6 L1584.88 360.92 L1585.48 361.19 L1586.13 361.41 L1586.8 361.59 L1587.5 361.72 L1588.24 361.82 L1589 361.89 L1589.78 361.92 L1590.58 361.92 L1591.4 361.9 L1592.83 361.76 L1594.39 361.46 L1596.05 361.03 L1597.8 360.48 L1599.62 359.84 L1601.49 359.12 L1603.4 358.35 L1605.32 357.55 L1607.24 356.73 L1609.14 355.92 L1611 355.14 L1612.8 354.4 L1614.6 353.67 L1616.39 352.93 L1618.18 352.16 L1619.97 351.38 L1621.75 350.59 L1623.54 349.79 L1625.32 348.97 L1627.1 348.15 L1628.87 347.32 L1630.65 346.48 L1632.43 345.64 L1634.2 344.8 L1635.99 343.94 L1637.78 343.08 L1639.57 342.2 L1641.35 341.31 L1643.13 340.41 L1644.91 339.51 L1646.69 338.61 L1648.47 337.7 L1650.26 336.8 L1652.04 335.9 L1653.82 334.99 L1655.6 334.1 L1657.4 333.22 L1659.24 332.34 L1661.1 331.48 L1662.97 330.62 L1664.85 329.76 L1666.71 328.89 L1668.55 328.02 L1670.35 327.13 L1672.11 326.23 L1673.81 325.31 L1675.44 324.37 L1677 323.4 L1678.25 322.57 L1679.46 321.74 L1680.64 320.9 L1681.79 320.05 L1682.9 319.19 L1683.99 318.32 L1685.04 317.43 L1686.07 316.53 L1687.07 315.61 L1688.04 314.66 L1688.98 313.69 L1689.9 312.7 L1690.76 311.72 L1691.59 310.73 L1692.4 309.72 L1693.17 308.7 L1693.93 307.65 L1694.65 306.59 L1695.36 305.51 L1696.03 304.41 L1696.69 303.29 L1697.31 302.15 L1697.92 300.98 L1698.5 299.8 L1699.09 298.5 L1699.65 297.18 L1700.17 295.83 L1700.66 294.46 L1701.12 293.07 L1701.55 291.65 L1701.96 290.21 L1702.36 288.75 L1702.74 287.27 L1703.1 285.77 L1703.45 284.24 L1703.8 282.7 L1704.18 280.9 L1704.53 279.06 L1704.85 277.2 L1705.14 275.31 L1705.41 273.39 L1705.67 271.44 L1705.91 269.47 L1706.14 267.47 L1706.36 265.44 L1706.57 263.38 L1706.79 261.3 L1707 259.2 L1707.24 256.71 L1707.47 254.18 L1707.67 251.62 L1707.87 249.02 L1708.05 246.38 L1708.23 243.71 L1708.39 241 L1708.55 238.26 L1708.71 235.49 L1708.87 232.69 L1709.03 229.86 L1709.2 227 L1709.39 223.63 L1709.58 220.17 L1709.76 216.63 L1709.93 213.03 L1710.11 209.39 L1710.28 205.72 L1710.45 202.05 L1710.62 198.39 L1710.79 194.75 L1710.96 191.17 L1711.13 187.64 L1711.3 184.2 L1711.46 181.14 L1711.62 178.12 L1711.78 175.14 L1711.93 172.18 L1712.09 169.25 L1712.25 166.34 L1712.41 163.44 L1712.57 160.54 L1712.73 157.65 L1712.88 154.74 L1713.04 151.83 L1713.2 148.9" fill="none" stroke="#77AC30" stroke-width="5.6" stroke-linejoin="round" stroke-linecap="butt"/>
<path d="M1043.9 864 L1043.94 867.73 L1043.98 871.48 L1044.01 875.26 L1044.05 879.05 L1044.08 882.84 L1044.11 886.62 L1044.15 890.37 L1044.19 894.1 L1044.24 897.79 L1044.28 901.42 L1044.34 905 L1044.4 908.5 L1044.46 911.53 L1044.52 914.53 L1044.59 917.51 L1044.66 920.47 L1044.73 923.39 L1044.81 926.27 L1044.89 929.12 L1044.97 931.93 L1045.05 934.7 L1045.13 937.41 L1045.22 940.08 L1045.3 942.7 L1045.37 944.83 L1045.43 946.91 L1045.5 948.95 L1045.56 950.95 L1045.63 952.92 L1045.69 954.87 L1045.76 956.8 L1045.84 958.72 L1045.92 960.63 L1046 962.54 L1046.1 964.46 L1046.2 966.4 L1046.3 968.29 L1046.41 970.18 L1046.52 972.08 L1046.63 973.97 L1046.75 975.86 L1046.87 977.74 L1047 979.61 L1047.14 981.47 L1047.29 983.31 L1047.45 985.13 L1047.62 986.93 L1047.8 988.7 L1047.97 990.28 L1048.16 991.85 L1048.34 993.41 L1048.54 994.95 L1048.75 996.48 L1048.96 998 L1049.18 999.5 L1049.4 1000.99 L1049.64 1002.46 L1049.88 1003.92 L1050.14 1005.37 L1050.4 1006.8 L1050.64 1008.09 L1050.89 1009.37 L1051.14 1010.63 L1051.4 1011.89 L1051.67 1013.13 L1051.94 1014.36 L1052.22 1015.58 L1052.52 1016.79 L1052.82 1017.99 L1053.13 1019.17 L1053.46 1020.34 L1053.8 1021.5 L1054.12 1022.56 L1054.46 1023.6 L1054.8 1024.63 L1055.14 1025.66 L1055.5 1026.67 L1055.87 1027.67 L1056.25 1028.67 L1056.64 1029.65 L1057.03 1030.63 L1057.44 1031.59 L1057.87 1032.55 L1058.3 1033.5 L1058.72 1034.41 L1059.15 1035.31 L1059.59 1036.2 L1060.03 1037.09 L1060.48 1037.97 L1060.94 1038.84 L1061.42 1039.7 L1061.91 1040.55 L1062.43 1041.39 L1062.96 1042.21 L1063.52 1043.01 L1064.1 1043.8 L1064.71 1044.59 L1065.35 1045.38 L1066.01 1046.16 L1066.68 1046.93 L1067.38 1047.69 L1068.09 1048.43 L1068.82 1049.15 L1069.57 1049.84 L1070.33 1050.51 L1071.11 1051.14 L1071.9 1051.74 L1072.7 1052.3 L1073.49 1052.8 L1074.3 1053.27 L1075.13 1053.7 L1075.97 1054.11 L1076.83 1054.49 L1077.71 1054.85 L1078.59 1055.18 L1079.47 1055.5 L1080.36 1055.8 L1081.24 1056.08 L1082.12 1056.34 L1083 1056.6 L1083.84 1056.83 L1084.68 1057.05 L1085.53 1057.24 L1086.37 1057.43 L1087.22 1057.59 L1088.08 1057.74 L1088.93 1057.87 L1089.78 1057.99 L1090.64 1058.09 L1091.49 1058.17 L1092.35 1058.24 L1093.2 1058.3 L1094.05 1058.34 L1094.9 1058.35 L1095.75 1058.34 L1096.6 1058.32 L1097.44 1058.28 L1098.3 1058.22 L1099.15 1058.16 L1100.01 1058.09 L1100.87 1058.02 L1101.74 1057.94 L1102.61 1057.87 L1103.5 1057.8 L1104.47 1057.73 L1105.46 1057.66 L1106.46 1057.59 L1107.47 1057.51 L1108.49 1057.43 L1109.51 1057.34 L1110.53 1057.25 L1111.55 1057.15 L1112.55 1057.03 L1113.55 1056.9 L1114.53 1056.76 L1115.5 1056.6 L1116.39 1056.44 L1117.28 1056.26 L1118.17 1056.08 L1119.05 1055.88 L1119.92 1055.68 L1120.78 1055.46 L1121.64 1055.24 L1122.49 1055.01 L1123.33 1054.77 L1124.16 1054.52 L1124.99 1054.26 L1125.8 1054 L1126.55 1053.75 L1127.28 1053.48 L1128 1053.21 L1128.72 1052.93 L1129.42 1052.64 L1130.12 1052.34 L1130.82 1052.04 L1131.52 1051.74 L1132.21 1051.43 L1132.9 1051.12 L1133.6 1050.81 L1134.3 1050.5 L1135.01 1050.2 L1135.71 1049.91 L1136.42 1049.63 L1137.13 1049.35 L1137.83 1049.07 L1138.54 1048.78 L1139.24 1048.47 L1139.94 1048.15 L1140.64 1047.79 L1141.33 1047.4 L1142.02 1046.97 L1142.7 1046.5 L1143.55 1045.84 L1144.4 1045.1 L1145.24 1044.3 L1146.09 1043.45 L1146.93 1042.55 L1147.76 1041.63 L1148.59 1040.68 L1149.4 1039.72 L1150.2 1038.76 L1150.98 1037.81 L1151.75 1036.89 L1152.5 1036 L1153.18 1035.22 L1153.85 1034.45 L1154.52 1033.7 L1155.19 1032.96 L1155.84 1032.22 L1156.48 1031.47 L1157.1 1030.71 L1157.7 1029.93 L1158.27 1029.13 L1158.82 1028.29 L1159.33 1027.42 L1159.8 1026.5 L1160.29 1025.4 L1160.73 1024.27 L1161.11 1023.11 L1161.45 1021.92 L1161.76 1020.7 L1162.04 1019.44 L1162.31 1018.15 L1162.56 1016.81 L1162.8 1015.43 L1163.06 1014 L1163.32 1012.53 L1163.6 1011 L1164.03 1008.63 L1164.46 1006.1 L1164.88 1003.42 L1165.29 1000.62 L1165.7 997.74 L1166.09 994.78 L1166.48 991.78 L1166.85 988.76 L1167.21 985.75 L1167.56 982.77 L1167.89 979.84 L1168.2 977 L1168.48 974.31 L1168.75 971.63 L1169 968.97 L1169.24 966.32 L1169.47 963.68 L1169.68 961.04 L1169.89 958.39 L1170.09 955.74 L1170.27 953.08 L1170.45 950.41 L1170.63 947.72 L1170.8 945 L1170.97 942.13 L1171.13 939.21 L1171.28 936.27 L1171.42 933.3 L1171.55 930.32 L1171.67 927.35 L1171.78 924.38 L1171.89 921.42 L1172 918.5 L1172.1 915.62 L1172.2 912.78 L1172.3 910 L1172.39 907.57 L1172.47 905.17 L1172.54 902.8 L1172.62 900.45 L1172.69 898.12 L1172.76 895.82 L1172.82 893.53 L1172.88 891.26 L1172.94 889 L1172.99 886.76 L1173.05 884.52 L1173.1 882.3 L1173.14 880.25 L1173.19 878.23 L1173.22 876.22 L1173.26 874.23 L1173.29 872.26 L1173.32 870.29 L1173.35 868.33 L1173.38 866.37 L1173.41 864.41 L1173.44 862.45 L1173.47 860.48 L1173.5 858.5 L1173.58 860.97 L1173.66 863.45 L1173.74 865.94 L1173.82 868.44 L1173.89 870.94 L1173.97 873.43 L1174.05 875.92 L1174.13 878.38 L1174.22 880.83 L1174.31 883.25 L1174.4 885.64 L1174.5 888 L1174.59 890.09 L1174.69 892.15 L1174.79 894.17 L1174.89 896.16 L1174.99 898.14 L1175.1 900.11 L1175.2 902.08 L1175.32 904.06 L1175.43 906.05 L1175.55 908.07 L1175.67 910.11 L1175.8 912.2 L1175.94 914.54 L1176.06 916.93 L1176.19 919.35 L1176.31 921.81 L1176.44 924.28 L1176.57 926.76 L1176.72 929.24 L1176.89 931.71 L1177.07 934.16 L1177.28 936.59 L1177.53 938.97 L1177.8 941.3 L1178.07 943.41 L1178.34 945.49 L1178.62 947.55 L1178.92 949.6 L1179.23 951.62 L1179.57 953.64 L1179.93 955.64 L1180.32 957.62 L1180.75 959.6 L1181.22 961.57 L1181.73 963.54 L1182.3 965.5 L1182.91 967.48 L1183.54 969.48 L1184.21 971.49 L1184.9 973.5 L1185.64 975.49 L1186.41 977.47 L1187.23 979.42 L1188.09 981.34 L1189.01 983.21 L1189.98 985.03 L1191.01 986.8 L1192.1 988.5 L1193.21 990.08 L1194.36 991.63 L1195.56 993.14 L1196.8 994.62 L1198.1 996.05 L1199.44 997.45 L1200.83 998.8 L1202.26 1000.11 L1203.75 1001.38 L1205.28 1002.6 L1206.87 1003.77 L1208.5 1004.9 L1210.4 1006.09 L1212.4 1007.22 L1214.5 1008.28 L1216.67 1009.29 L1218.91 1010.25 L1221.18 1011.15 L1223.49 1012.01 L1225.8 1012.82 L1228.1 1013.6 L1230.38 1014.33 L1232.62 1015.03 L1234.8 1015.7 L1236.76 1016.28 L1238.74 1016.82 L1240.73 1017.33 L1242.72 1017.8 L1244.71 1018.24 L1246.68 1018.65 L1248.63 1019.02 L1250.55 1019.36 L1252.42 1019.67 L1254.24 1019.95 L1256 1020.19 L1257.7 1020.4 L1258.93 1020.54 L1260.13 1020.66 L1261.3 1020.77 L1262.44 1020.85 L1263.56 1020.92 L1264.65 1020.97 L1265.73 1021 L1266.8 1021.01 L1267.85 1020.99 L1268.9 1020.95 L1269.95 1020.89 L1271 1020.8 L1271.97 1020.7 L1272.93 1020.6 L1273.9 1020.48 L1274.86 1020.34 L1275.81 1020.19 L1276.75 1020.01 L1277.67 1019.81 L1278.58 1019.58 L1279.47 1019.31 L1280.34 1019.02 L1281.18 1018.68 L1282 1018.3 L1282.76 1017.89 L1283.49 1017.45 L1284.21 1016.97 L1284.9 1016.46 L1285.57 1015.91 L1286.23 1015.34 L1286.87 1014.75 L1287.51 1014.13 L1288.14 1013.5 L1288.76 1012.84 L1289.38 1012.18 L1290 1011.5 L1290.71 1010.71 L1291.41 1009.88 L1292.11 1009.02 L1292.81 1008.14 L1293.49 1007.23 L1294.17 1006.3 L1294.83 1005.35 L1295.47 1004.38 L1296.09 1003.4 L1296.68 1002.41 L1297.26 1001.41 L1297.8 1000.4 L1298.33 999.36 L1298.84 998.3 L1299.32 997.24 L1299.78 996.16 L1300.22 995.06 L1300.64 993.95 L1301.04 992.82 L1301.42 991.68 L1301.79 990.51 L1302.14 989.33 L1302.48 988.13 L1302.8 986.9 L1303.15 985.46 L1303.46 983.99 L1303.75 982.49 L1304.01 980.97 L1304.25 979.42 L1304.47 977.84 L1304.68 976.25 L1304.87 974.63 L1305.05 973 L1305.24 971.35 L1305.42 969.68 L1305.6 968 L1305.8 966.06 L1305.99 964.1 L1306.17 962.12 L1306.34 960.12 L1306.49 958.09 L1306.64 956.04 L1306.77 953.95 L1306.9 951.84 L1307.03 949.69 L1307.16 947.5 L1307.28 945.27 L1307.4 943 L1307.54 940.16 L1307.68 937.23 L1307.81 934.23 L1307.93 931.16 L1308.04 928.05 L1308.14 924.89 L1308.24 921.71 L1308.34 918.5 L1308.43 915.29 L1308.52 912.07 L1308.61 908.87 L1308.7 905.7 L1308.79 902.43 L1308.87 899.14 L1308.94 895.84 L1309.01 892.53 L1309.07 889.21 L1309.13 885.88 L1309.19 882.55 L1309.25 879.21 L1309.31 875.88 L1309.37 872.55 L1309.44 869.22 L1309.5 865.9 L1309.61 868.18 L1309.71 870.49 L1309.8 872.82 L1309.9 875.16 L1309.99 877.51 L1310.09 879.84 L1310.19 882.15 L1310.3 884.43 L1310.41 886.66 L1310.53 888.85 L1310.66 890.96 L1310.8 893 L1310.91 894.57 L1311.03 896.12 L1311.13 897.63 L1311.25 899.11 L1311.36 900.56 L1311.48 901.99 L1311.61 903.4 L1311.76 904.78 L1311.91 906.14 L1312.09 907.48 L1312.28 908.8 L1312.5 910.1 L1312.7 911.19 L1312.9 912.26 L1313.11 913.31 L1313.32 914.34 L1313.55 915.35 L1313.79 916.35 L1314.04 917.34 L1314.31 918.32 L1314.6 919.29 L1314.91 920.26 L1315.24 921.23 L1315.6 922.2 L1315.98 923.17 L1316.37 924.14 L1316.78 925.09 L1317.21 926.04 L1317.66 926.98 L1318.13 927.91 L1318.61 928.85 L1319.12 929.78 L1319.66 930.7 L1320.21 931.63 L1320.79 932.57 L1321.4 933.5 L1322.12 934.57 L1322.87 935.65 L1323.64 936.72 L1324.44 937.79 L1325.27 938.87 L1326.13 939.94 L1327.03 941.01 L1327.96 942.07 L1328.93 943.13 L1329.94 944.19 L1331 945.25 L1332.1 946.3 L1333.57 947.63 L1335.14 948.99 L1336.8 950.35 L1338.53 951.72 L1340.32 953.08 L1342.16 954.43 L1344.04 955.76 L1345.94 957.06 L1347.85 958.33 L1349.75 959.54 L1351.64 960.7 L1353.5 961.8 L1355.24 962.78 L1356.99 963.7 L1358.76 964.59 L1360.53 965.43 L1362.31 966.24 L1364.1 967.03 L1365.9 967.79 L1367.69 968.53 L1369.5 969.25 L1371.3 969.97 L1373.1 970.69 L1374.9 971.4 L1376.67 972.1 L1378.45 972.8 L1380.24 973.49 L1382.04 974.17 L1383.83 974.84 L1385.63 975.49 L1387.42 976.12 L1389.21 976.73 L1391 977.32 L1392.77 977.88 L1394.54 978.4 L1396.3 978.9 L1397.94 979.36 L1399.61 979.83 L1401.28 980.32 L1402.97 980.79 L1404.64 981.24 L1406.31 981.66 L1407.95 982.03 L1409.56 982.34 L1411.13 982.58 L1412.65 982.72 L1414.11 982.77 L1415.5 982.7 L1416.53 982.58 L1417.55 982.4 L1418.53 982.19 L1419.5 981.92 L1420.43 981.61 L1421.35 981.26 L1422.24 980.87 L1423.1 980.43 L1423.94 979.96 L1424.75 979.44 L1425.54 978.89 L1426.3 978.3 L1427.09 977.61 L1427.84 976.87 L1428.55 976.07 L1429.24 975.22 L1429.9 974.32 L1430.53 973.39 L1431.13 972.41 L1431.71 971.4 L1432.27 970.36 L1432.8 969.29 L1433.31 968.2 L1433.8 967.1 L1434.36 965.72 L1434.87 964.29 L1435.33 962.8 L1435.75 961.27 L1436.14 959.69 L1436.5 958.08 L1436.83 956.43 L1437.14 954.74 L1437.44 953.04 L1437.73 951.31 L1438.01 949.56 L1438.3 947.8 L1438.63 945.68 L1438.92 943.5 L1439.19 941.28 L1439.44 939.02 L1439.66 936.72 L1439.87 934.38 L1440.06 932.02 L1440.24 929.64 L1440.41 927.25 L1440.58 924.84 L1440.74 922.42 L1440.9 920 L1441.07 917.35 L1441.21 914.66 L1441.35 911.94 L1441.47 909.2 L1441.58 906.43 L1441.68 903.65 L1441.77 900.86 L1441.86 898.07 L1441.95 895.29 L1442.03 892.51 L1442.11 889.74 L1442.2 887 L1442.28 884.31 L1442.36 881.62 L1442.44 878.94 L1442.51 876.27 L1442.58 873.59 L1442.64 870.92 L1442.71 868.25 L1442.77 865.58 L1442.83 862.91 L1442.88 860.25 L1442.94 857.57 L1443 854.9 L1443.06 852.22 L1443.11 849.54 L1443.17 846.86 L1443.22 844.18 L1443.27 841.49 L1443.32 838.81 L1443.37 836.13 L1443.42 833.45 L1443.47 830.78 L1443.51 828.11 L1443.56 825.45 L1443.6 822.8 L1443.64 820.21 L1443.68 817.63 L1443.71 815.06 L1443.75 812.49 L1443.78 809.92 L1443.81 807.36 L1443.84 804.8 L1443.87 802.24 L1443.9 799.69 L1443.94 797.13 L1443.97 794.56 L1444 792 L1444.07 794.79 L1444.13 797.57 L1444.19 800.34 L1444.25 803.11 L1444.31 805.88 L1444.38 808.65 L1444.44 811.43 L1444.5 814.22 L1444.57 817.03 L1444.64 819.86 L1444.72 822.71 L1444.8 825.6 L1444.88 828.79 L1444.94 832.11 L1444.98 835.51 L1445.03 838.97 L1445.08 842.44 L1445.13 845.9 L1445.21 849.31 L1445.31 852.65 L1445.44 855.86 L1445.61 858.94 L1445.83 861.83 L1446.1 864.5 L1446.3 866.16 L1446.49 867.76 L1446.69 869.31 L1446.9 870.8 L1447.13 872.24 L1447.37 873.63 L1447.64 874.99 L1447.93 876.3 L1448.26 877.57 L1448.63 878.81 L1449.04 880.02 L1449.5 881.2 L1449.92 882.15 L1450.36 883.05 L1450.84 883.92 L1451.34 884.76 L1451.86 885.57 L1452.4 886.36 L1452.96 887.14 L1453.54 887.9 L1454.14 888.67 L1454.75 889.44 L1455.37 890.21 L1456 891 L1456.7 891.87 L1457.42 892.73 L1458.15 893.58 L1458.89 894.43 L1459.66 895.28 L1460.45 896.12 L1461.26 896.97 L1462.09 897.81 L1462.95 898.65 L1463.84 899.5 L1464.75 900.35 L1465.7 901.2 L1466.92 902.26 L1468.19 903.33 L1469.51 904.4 L1470.88 905.48 L1472.29 906.56 L1473.73 907.64 L1475.2 908.72 L1476.7 909.79 L1478.21 910.86 L1479.73 911.92 L1481.27 912.96 L1482.8 914 L1484.48 915.11 L1486.19 916.22 L1487.93 917.32 L1489.69 918.42 L1491.48 919.51 L1493.28 920.59 L1495.1 921.66 L1496.92 922.71 L1498.75 923.76 L1500.57 924.79 L1502.39 925.8 L1504.2 926.8 L1505.98 927.76 L1507.77 928.72 L1509.57 929.66 L1511.38 930.59 L1513.2 931.51 L1515.01 932.41 L1516.82 933.3 L1518.61 934.17 L1520.39 935.03 L1522.15 935.87 L1523.89 936.7 L1525.6 937.5 L1527.09 938.2 L1528.57 938.9 L1530.04 939.6 L1531.5 940.28 L1532.95 940.96 L1534.38 941.62 L1535.81 942.25 L1537.21 942.87 L1538.61 943.45 L1539.99 944 L1541.35 944.52 L1542.7 945 L1543.82 945.39 L1544.94 945.79 L1546.05 946.18 L1547.15 946.57 L1548.24 946.93 L1549.31 947.27 L1550.38 947.56 L1551.43 947.82 L1552.47 948.02 L1553.5 948.15 L1554.51 948.22 L1555.5 948.2 L1556.38 948.13 L1557.26 948.02 L1558.13 947.86 L1559.01 947.67 L1559.87 947.43 L1560.71 947.15 L1561.54 946.82 L1562.34 946.45 L1563.11 946.03 L1563.85 945.57 L1564.55 945.06 L1565.2 944.5 L1565.9 943.78 L1566.54 942.99 L1567.14 942.11 L1567.7 941.17 L1568.21 940.16 L1568.7 939.1 L1569.15 938 L1569.57 936.86 L1569.98 935.69 L1570.36 934.51 L1570.74 933.31 L1571.1 932.1 L1571.53 930.56 L1571.9 928.96 L1572.23 927.31 L1572.52 925.61 L1572.77 923.87 L1573 922.08 L1573.2 920.26 L1573.39 918.4 L1573.57 916.51 L1573.74 914.6 L1573.92 912.66 L1574.1 910.7 L1574.32 908.26 L1574.51 905.74 L1574.69 903.15 L1574.85 900.51 L1574.99 897.82 L1575.12 895.09 L1575.24 892.34 L1575.35 889.58 L1575.46 886.81 L1575.57 884.05 L1575.68 881.31 L1575.8 878.6 L1575.92 875.88 L1576.03 873.19 L1576.14 870.51 L1576.25 867.84 L1576.35 865.16 L1576.45 862.47 L1576.55 859.76 L1576.64 857.02 L1576.74 854.25 L1576.82 851.42 L1576.91 848.54 L1577 845.6 L1577.1 842.03 L1577.19 838.37 L1577.28 834.64 L1577.37 830.83 L1577.45 826.97 L1577.53 823.08 L1577.61 819.15 L1577.68 815.22 L1577.76 811.28 L1577.84 807.35 L1577.92 803.46 L1578 799.6 L1578.07 801.83 L1578.12 804.09 L1578.17 806.39 L1578.22 808.69 L1578.26 811 L1578.31 813.3 L1578.37 815.56 L1578.44 817.79 L1578.52 819.96 L1578.62 822.06 L1578.75 824.08 L1578.9 826 L1579.01 827.39 L1579.11 828.76 L1579.2 830.11 L1579.29 831.43 L1579.39 832.73 L1579.51 833.98 L1579.65 835.2 L1579.82 836.37 L1580.04 837.49 L1580.3 838.56 L1580.62 839.56 L1581 840.5 L1581.32 841.14 L1581.65 841.71 L1582 842.25 L1582.37 842.74 L1582.76 843.21 L1583.18 843.65 L1583.62 844.09 L1584.1 844.53 L1584.6 844.99 L1585.13 845.46 L1585.7 845.96 L1586.3 846.5 L1587.44 847.49 L1588.71 848.51 L1590.09 849.56 L1591.57 850.65 L1593.14 851.77 L1594.79 852.92 L1596.5 854.1 L1598.27 855.31 L1600.07 856.56 L1601.9 857.84 L1603.75 859.15 L1605.6 860.5 L1608.21 862.44 L1610.97 864.51 L1613.85 866.69 L1616.84 868.96 L1619.89 871.28 L1623 873.65 L1626.13 876.03 L1629.26 878.4 L1632.37 880.73 L1635.43 883.01 L1638.41 885.21 L1641.3 887.3 L1643.78 889.1 L1646.23 890.92 L1648.67 892.74 L1651.08 894.55 L1653.48 896.34 L1655.86 898.08 L1658.22 899.77 L1660.56 901.39 L1662.89 902.93 L1665.21 904.37 L1667.51 905.7 L1669.8 906.9 L1671.66 907.81 L1673.54 908.69 L1675.44 909.55 L1677.34 910.36 L1679.22 911.11 L1681.09 911.8 L1682.92 912.42 L1684.71 912.95 L1686.45 913.38 L1688.11 913.71 L1689.7 913.92 L1691.2 914 L1692.18 913.99 L1693.14 913.93 L1694.07 913.83 L1694.98 913.68 L1695.87 913.49 L1696.72 913.25 L1697.55 912.97 L1698.35 912.65 L1699.11 912.28 L1699.85 911.86 L1700.54 911.4 L1701.2 910.9 L1701.85 910.32 L1702.45 909.69 L1703 909.01 L1703.52 908.28 L1703.99 907.5 L1704.44 906.67 L1704.86 905.79 L1705.26 904.86 L1705.64 903.89 L1706 902.87 L1706.35 901.81 L1706.7 900.7 L1707.23 898.7 L1707.67 896.48 L1708.04 894.07 L1708.35 891.51 L1708.61 888.81 L1708.82 886.01 L1709 883.14 L1709.16 880.23 L1709.31 877.3 L1709.46 874.38 L1709.62 871.51 L1709.8 868.7 L1710 865.73 L1710.17 862.73 L1710.34 859.69 L1710.48 856.64 L1710.62 853.56 L1710.74 850.48 L1710.86 847.38 L1710.97 844.29 L1711.08 841.2 L1711.18 838.11 L1711.29 835.05 L1711.4 832 L1711.51 828.99 L1711.61 825.93 L1711.71 822.85 L1711.81 819.76 L1711.9 816.67 L1711.99 813.6 L1712.08 810.57 L1712.17 807.58 L1712.25 804.65 L1712.33 801.81 L1712.42 799.05 L1712.5 796.4 L1712.56 794.43 L1712.62 792.52 L1712.68 790.67 L1712.74 788.87 L1712.8 787.1 L1712.86 785.36 L1712.92 783.64 L1712.97 781.93 L1713.03 780.22 L1713.08 778.5 L1713.14 776.77 L1713.2 775" fill="none" stroke="#4DBEEE" stroke-width="5.6" stroke-dasharray="5.6 5.13" stroke-linejoin="miter"/>
</g>
<g><rect x="193.8" y="86" width="214.2" height="434.6" fill="#fff" stroke="#1a1a1a" stroke-width="1.9"/><circle cx="257.9" cy="126.1" r="10.6" fill="none" stroke="#0072BD" stroke-width="1.75"/><g stroke="#D95319" stroke-width="1.75" fill="none"><path d="M250.6 189.66L265.2 204.26M250.6 204.26L265.2 189.66"/></g><line x1="204.3" y1="267.82" x2="311.7" y2="267.82" stroke="#EDB120" stroke-width="5.6" stroke-dasharray="21.6 21.3"/><line x1="204.3" y1="338.68" x2="311.7" y2="338.68" stroke="#7E2F8E" stroke-width="5.6" stroke-dasharray="21.6 5.3 10.7 5.3"/><line x1="204.3" y1="409.54" x2="311.7" y2="409.54" stroke="#77AC30" stroke-width="5.6"/><line x1="204.3" y1="480.4" x2="311.7" y2="480.4" stroke="#4DBEEE" stroke-width="5.6" stroke-dasharray="5.6 5.13"/><text transform="translate(322.19 140.5) scale(1.1 1)" font-family="'Liberation Serif',serif" font-style="italic" font-size="60.5" fill="#000">N</text><text transform="translate(365.33 148.9) scale(0.99 1)" font-family="'Liberation Serif',serif" font-size="42" fill="#000">1</text><text transform="translate(322.19 211.36) scale(1.1 1)" font-family="'Liberation Serif',serif" font-style="italic" font-size="60.5" fill="#000">N</text><text transform="translate(366.47 219.76) scale(0.99 1)" font-family="'Liberation Serif',serif" font-size="42" fill="#000">2</text><text transform="translate(318.57 282.22) scale(1.11 1)" font-family="'Liberation Serif',serif" font-style="italic" font-size="60.5" fill="#000">W</text><text transform="translate(374.15 290.62) scale(0.96 1)" font-family="'Liberation Serif',serif" font-size="42" fill="#000">1</text><text transform="translate(318.57 353.08) scale(1.11 1)" font-family="'Liberation Serif',serif" font-style="italic" font-size="60.5" fill="#000">W</text><text transform="translate(374.47 361.48) scale(0.99 1)" font-family="'Liberation Serif',serif" font-size="42" fill="#000">2</text><text transform="translate(322.17 423.94) scale(1.17 1)" font-family="'Liberation Serif',serif" font-style="italic" font-size="60.5" fill="#000">S</text><text transform="translate(354.63 432.34) scale(0.99 1)" font-family="'Liberation Serif',serif" font-size="42" fill="#000">1</text><text transform="translate(322.17 494.8) scale(1.17 1)" font-family="'Liberation Serif',serif" font-style="italic" font-size="60.5" fill="#000">S</text><text transform="translate(355.1 503.2) scale(1.03 1)" font-family="'Liberation Serif',serif" font-size="42" fill="#000">2</text></g>
<g><rect x="1074.1" y="86" width="214.2" height="434.6" fill="#fff" stroke="#1a1a1a" stroke-width="1.9"/><circle cx="1138.2" cy="126.1" r="10.6" fill="none" stroke="#0072BD" stroke-width="1.75"/><g stroke="#D95319" stroke-width="1.75" fill="none"><path d="M1130.9 189.66L1145.5 204.26M1130.9 204.26L1145.5 189.66"/></g><line x1="1084.6" y1="267.82" x2="1192" y2="267.82" stroke="#EDB120" stroke-width="5.6" stroke-dasharray="21.6 21.3"/><line x1="1084.6" y1="338.68" x2="1192" y2="338.68" stroke="#7E2F8E" stroke-width="5.6" stroke-dasharray="21.6 5.3 10.7 5.3"/><line x1="1084.6" y1="409.54" x2="1192" y2="409.54" stroke="#77AC30" stroke-width="5.6"/><line x1="1084.6" y1="480.4" x2="1192" y2="480.4" stroke="#4DBEEE" stroke-width="5.6" stroke-dasharray="5.6 5.13"/><text transform="translate(1202.49 140.5) scale(1.1 1)" font-family="'Liberation Serif',serif" font-style="italic" font-size="60.5" fill="#000">N</text><text transform="translate(1245.63 148.9) scale(0.99 1)" font-family="'Liberation Serif',serif" font-size="42" fill="#000">1</text><text transform="translate(1202.49 211.36) scale(1.1 1)" font-family="'Liberation Serif',serif" font-style="italic" font-size="60.5" fill="#000">N</text><text transform="translate(1246.77 219.76) scale(0.99 1)" font-family="'Liberation Serif',serif" font-size="42" fill="#000">2</text><text transform="translate(1198.87 282.22) scale(1.11 1)" font-family="'Liberation Serif',serif" font-style="italic" font-size="60.5" fill="#000">W</text><text transform="translate(1254.45 290.62) scale(0.96 1)" font-family="'Liberation Serif',serif" font-size="42" fill="#000">1</text><text transform="translate(1198.87 353.08) scale(1.11 1)" font-family="'Liberation Serif',serif" font-style="italic" font-size="60.5" fill="#000">W</text><text transform="translate(1254.77 361.48) scale(0.99 1)" font-family="'Liberation Serif',serif" font-size="42" fill="#000">2</text><text transform="translate(1202.47 423.94) scale(1.17 1)" font-family="'Liberation Serif',serif" font-style="italic" font-size="60.5" fill="#000">S</text><text transform="translate(1234.93 432.34) scale(0.99 1)" font-family="'Liberation Serif',serif" font-size="42" fill="#000">1</text><text transform="translate(1202.47 494.8) scale(1.17 1)" font-family="'Liberation Serif',serif" font-style="italic" font-size="60.5" fill="#000">S</text><text transform="translate(1235.4 503.2) scale(1.03 1)" font-family="'Liberation Serif',serif" font-size="42" fill="#000">2</text></g>
<text transform="translate(460.35 82.9) scale(1.01 1)" font-family="'Liberation Sans',sans-serif" font-size="58.3" fill="#000">(a)</text><text transform="translate(1338.25 80.4) scale(1.01 1)" font-family="'Liberation Sans',sans-serif" font-size="58.3" fill="#000">(b)</text><text transform="translate(446.84 1386.6) scale(1.12 1)" font-family="'Liberation Serif',serif" font-style="italic" font-size="69" fill="#262626">J</text><text transform="translate(485 1402.6) scale(1.35 1.36)" font-family="'Liberation Serif',serif" font-size="72" fill="#262626">/</text><text transform="translate(515.24 1386.6) scale(1.08 1)" font-family="'Liberation Serif',serif" font-style="italic" font-size="62.5" fill="#262626">π</text><text transform="translate(1315.79 1386) scale(1.2 1)" font-family="'Liberation Serif',serif" font-size="70.3" fill="#262626">Δ</text><text transform="translate(1372 1402.6) scale(1.35 1.36)" font-family="'Liberation Serif',serif" font-size="72" fill="#262626">/</text><text transform="translate(1403.03 1386.6) scale(1.09 1)" font-family="'Liberation Serif',serif" font-style="italic" font-size="62.5" fill="#262626">π</text><g transform="translate(45.5 0) rotate(-90)"><text transform="translate(-829.94 0) scale(1.12 1)" font-family="'Liberation Serif',serif" font-style="italic" font-size="67.7" fill="#262626">N</text><text transform="translate(-781.57 9.3) scale(0.98 1)" font-family="'Liberation Serif',serif" font-size="44.7" fill="#262626">1</text><text transform="translate(-755.96 9.3) scale(0.86 1)" font-family="'Liberation Serif',serif" font-size="44.7" fill="#262626">,</text><text transform="translate(-745.58 9.3) scale(1.01 1)" font-family="'Liberation Serif',serif" font-size="44.7" fill="#262626">2</text><text transform="translate(-716.57 0) scale(0.76 1)" font-family="'Liberation Serif',serif" font-size="67.7" fill="#262626">,</text><text transform="translate(-682.47 0) scale(1.11 1)" font-family="'Liberation Serif',serif" font-style="italic" font-size="67.7" fill="#262626">W</text><text transform="translate(-620.24 9.3) scale(0.95 1)" font-family="'Liberation Serif',serif" font-size="44.7" fill="#262626">1</text><text transform="translate(-596.74 9.3) scale(0.96 1)" font-family="'Liberation Serif',serif" font-size="44.7" fill="#262626">,</text><text transform="translate(-584.8 9.3) scale(1.02 1)" font-family="'Liberation Serif',serif" font-size="44.7" fill="#262626">2</text><text transform="translate(-556.7 0) scale(0.89 1)" font-family="'Liberation Serif',serif" font-size="67.7" fill="#262626">,</text><text transform="translate(-517.45 0) scale(1.2 1)" font-family="'Liberation Serif',serif" font-style="italic" font-size="67.7" fill="#262626">S</text><text transform="translate(-480.32 9.3) scale(0.97 1)" font-family="'Liberation Serif',serif" font-size="44.7" fill="#262626">1</text><text transform="translate(-456.01 9.3) scale(0.89 1)" font-family="'Liberation Serif',serif" font-size="44.7" fill="#262626">,</text><text transform="translate(-445.52 9.3) scale(1.03 1)" font-family="'Liberation Serif',serif" font-size="44.7" fill="#262626">2</text></g>
</svg>
</body></html>
